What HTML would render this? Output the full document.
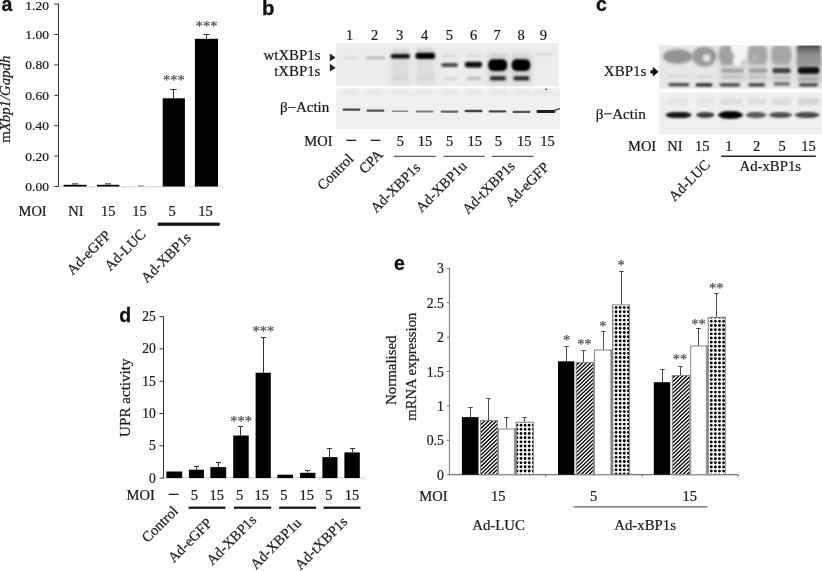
<!DOCTYPE html>
<html lang="en"><head><meta charset="utf-8"><title>Figure</title>
<style>
html,body{margin:0;padding:0;background:#fff}
body{width:822px;height:571px;overflow:hidden}
svg{display:block}
text{font-family:"Liberation Serif",serif;stroke:#1a1a1a;stroke-width:0.22px}
.st{stroke:#4a4a4a;fill:#4a4a4a}
.pl{font-family:"Liberation Sans",sans-serif;font-weight:bold;stroke:#111;stroke-width:0.3px}
</style></head><body>
<svg width="822" height="571" viewBox="0 0 822 571">
<defs>
<filter id="b1" x="-20%" y="-100%" width="140%" height="300%"><feGaussianBlur stdDeviation="0.9"/></filter>
<filter id="b2" x="-20%" y="-100%" width="140%" height="300%"><feGaussianBlur stdDeviation="1.5"/></filter>
<filter id="b3" x="-30%" y="-100%" width="160%" height="300%"><feGaussianBlur stdDeviation="2.5"/></filter>
<filter id="b05" x="-20%" y="-100%" width="140%" height="300%"><feGaussianBlur stdDeviation="0.75"/></filter>
<pattern id="hatch" width="2.74" height="2.74" patternUnits="userSpaceOnUse" patternTransform="rotate(46)">
<rect width="2.74" height="2.74" fill="#fff"/><rect x="0" y="0" width="1.32" height="2.74" fill="#000"/></pattern>
<pattern id="dots1" x="518.95" y="423.1" width="4.1" height="4.16" patternUnits="userSpaceOnUse"><rect width="4.1" height="4.16" fill="#fff"/><circle cx="2.05" cy="2.08" r="1.27" fill="#000"/><path d="M0 2.08H4.1M2.05 0V4.16" stroke="#bbb" stroke-width="0.35"/></pattern>
<pattern id="dots2" x="614.05" y="305.5" width="4.1" height="4.16" patternUnits="userSpaceOnUse"><rect width="4.1" height="4.16" fill="#fff"/><circle cx="2.05" cy="2.08" r="1.27" fill="#000"/><path d="M0 2.08H4.1M2.05 0V4.16" stroke="#bbb" stroke-width="0.35"/></pattern>
<pattern id="dots3" x="709.25" y="439.9" width="4.1" height="4.16" patternUnits="userSpaceOnUse"><rect width="4.1" height="4.16" fill="#fff"/><circle cx="2.05" cy="2.08" r="1.27" fill="#000"/><path d="M0 2.08H4.1M2.05 0V4.16" stroke="#bbb" stroke-width="0.35"/></pattern>
<linearGradient id="g6" x1="0" y1="0" x2="0" y2="1"><stop offset="0" stop-color="#383838"/><stop offset="0.22" stop-color="#6a6a6a"/><stop offset="0.45" stop-color="#8e8e8e"/><stop offset="1" stop-color="#9e9e9e"/></linearGradient>
</defs>
<rect width="822" height="571" fill="#fff"/>

<g id="panelA">
<text class="pl" x="1.4" y="10.9" font-size="19.5" fill="#111">a</text>
<line x1="58.5" y1="3.6" x2="58.5" y2="187.0" stroke="#333" stroke-width="1"/>
<line x1="54.3" y1="186.5" x2="58.5" y2="186.5" stroke="#333" stroke-width="1"/>
<text x="48.9" y="190.9" font-size="13.5" text-anchor="end" fill="#1a1a1a">0.00</text>
<line x1="54.3" y1="156.1" x2="58.5" y2="156.1" stroke="#333" stroke-width="1"/>
<text x="48.9" y="160.5" font-size="13.5" text-anchor="end" fill="#1a1a1a">0.20</text>
<line x1="54.3" y1="125.7" x2="58.5" y2="125.7" stroke="#333" stroke-width="1"/>
<text x="48.9" y="130.1" font-size="13.5" text-anchor="end" fill="#1a1a1a">0.40</text>
<line x1="54.3" y1="95.30000000000001" x2="58.5" y2="95.30000000000001" stroke="#333" stroke-width="1"/>
<text x="48.9" y="99.70000000000002" font-size="13.5" text-anchor="end" fill="#1a1a1a">0.60</text>
<line x1="54.3" y1="64.9" x2="58.5" y2="64.9" stroke="#333" stroke-width="1"/>
<text x="48.9" y="69.30000000000001" font-size="13.5" text-anchor="end" fill="#1a1a1a">0.80</text>
<line x1="54.3" y1="34.5" x2="58.5" y2="34.5" stroke="#333" stroke-width="1"/>
<text x="48.9" y="38.9" font-size="13.5" text-anchor="end" fill="#1a1a1a">1.00</text>
<line x1="54.3" y1="4.100000000000023" x2="58.5" y2="4.100000000000023" stroke="#333" stroke-width="1"/>
<text x="48.9" y="10.100000000000023" font-size="13.5" text-anchor="end" fill="#1a1a1a">1.20</text>
<line x1="58.5" y1="186.7" x2="223" y2="186.7" stroke="#d4d4d4" stroke-width="1"/>
<line x1="91.3" y1="186.5" x2="91.3" y2="189.0" stroke="#d8d8d8" stroke-width="0.8"/>
<line x1="124.1" y1="186.5" x2="124.1" y2="189.0" stroke="#d8d8d8" stroke-width="0.8"/>
<line x1="156.89999999999998" y1="186.5" x2="156.89999999999998" y2="189.0" stroke="#d8d8d8" stroke-width="0.8"/>
<line x1="189.7" y1="186.5" x2="189.7" y2="189.0" stroke="#d8d8d8" stroke-width="0.8"/>
<line x1="222.5" y1="186.5" x2="222.5" y2="189.0" stroke="#d8d8d8" stroke-width="0.8"/>
<text x="10.1" y="142.8" font-size="14.8" transform="rotate(-90 10.1 142.8)" fill="#1a1a1a">m<tspan font-style="italic">Xbp1/Gapdh</tspan></text>
<rect x="63.60" y="184.80" width="23.00" height="1.70" fill="#000"/>
<line x1="72" y1="183.9" x2="78" y2="183.9" stroke="#222" stroke-width="1"/>
<rect x="96.90" y="184.80" width="22.50" height="1.70" fill="#000"/>
<line x1="105" y1="183.9" x2="111" y2="183.9" stroke="#222" stroke-width="1"/>
<line x1="138" y1="185.9" x2="144" y2="185.9" stroke="#666" stroke-width="0.8"/>
<rect x="162.70" y="98.30" width="22.20" height="88.20" fill="#000"/>
<line x1="173.5" y1="98.3" x2="173.5" y2="89.0" stroke="#333" stroke-width="1"/>
<line x1="170.3" y1="89.5" x2="176.7" y2="89.5" stroke="#333" stroke-width="1"/>
<rect x="194.90" y="38.80" width="23.10" height="147.70" fill="#000"/>
<line x1="206.5" y1="38.8" x2="206.5" y2="34.0" stroke="#333" stroke-width="1"/>
<line x1="203.3" y1="34.5" x2="209.7" y2="34.5" stroke="#333" stroke-width="1"/>
<text x="173.8" y="84.5" font-size="14.5" text-anchor="middle" fill="#555" class="st">***</text>
<text x="206.7" y="30.7" font-size="14.5" text-anchor="middle" fill="#555" class="st">***</text>
<text x="18.5" y="216.3" font-size="14.5" fill="#1a1a1a">MOI</text>
<text x="76" y="216.3" font-size="14.5" text-anchor="middle" fill="#1a1a1a">NI</text>
<text x="108.2" y="216.3" font-size="14.5" text-anchor="middle" fill="#1a1a1a">15</text>
<text x="139.5" y="216.3" font-size="14.5" text-anchor="middle" fill="#1a1a1a">15</text>
<text x="172.1" y="216.3" font-size="14.5" text-anchor="middle" fill="#1a1a1a">5</text>
<text x="205.6" y="216.3" font-size="14.5" text-anchor="middle" fill="#1a1a1a">15</text>
<rect x="157.70" y="222.60" width="62.00" height="3.20" fill="#111"/>
<text x="72.5" y="275.5" font-size="14.5" transform="rotate(-45 72.5 275.5)" fill="#1a1a1a">Ad-eGFP</text>
<text x="110.2" y="271.5" font-size="14.5" transform="rotate(-45 110.2 271.5)" fill="#1a1a1a">Ad-LUC</text>
<text x="146.8" y="283.5" font-size="14.5" transform="rotate(-45 146.8 283.5)" fill="#1a1a1a">Ad-XBP1s</text>
</g>
<g id="panelB">
<text class="pl" x="262" y="14.5" font-size="20.3" fill="#111">b</text>
<text x="349.5" y="40" font-size="14.5" text-anchor="middle" fill="#1a1a1a">1</text>
<text x="374.7" y="40" font-size="14.5" text-anchor="middle" fill="#1a1a1a">2</text>
<text x="399.5" y="40" font-size="14.5" text-anchor="middle" fill="#1a1a1a">3</text>
<text x="424.5" y="40" font-size="14.5" text-anchor="middle" fill="#1a1a1a">4</text>
<text x="449.3" y="40" font-size="14.5" text-anchor="middle" fill="#1a1a1a">5</text>
<text x="473.6" y="40" font-size="14.5" text-anchor="middle" fill="#1a1a1a">6</text>
<text x="497.2" y="40" font-size="14.5" text-anchor="middle" fill="#1a1a1a">7</text>
<text x="521" y="40" font-size="14.5" text-anchor="middle" fill="#1a1a1a">8</text>
<text x="543.3" y="40" font-size="14.5" text-anchor="middle" fill="#1a1a1a">9</text>
<text x="320.4" y="60.1" font-size="13.6" text-anchor="end" fill="#1a1a1a" textLength="56.8" lengthAdjust="spacingAndGlyphs">wtXBP1s</text>
<text x="320.4" y="75.7" font-size="13.6" text-anchor="end" fill="#1a1a1a" textLength="46.2" lengthAdjust="spacingAndGlyphs">tXBP1s</text>
<text x="329.3" y="112.2" font-size="13.6" text-anchor="end" fill="#1a1a1a" textLength="49.4" lengthAdjust="spacingAndGlyphs">β−Actin</text>
<path d="M329.8 53.4 L335.6 57.4 L329.8 61.4 Z" fill="#222"/>
<path d="M329.8 63.7 L335.6 67.7 L329.8 71.7 Z" fill="#222"/>
<rect x="336.00" y="43.20" width="222.80" height="42.90" fill="#ececec"/>
<rect x="336.00" y="88.40" width="224.00" height="40.80" fill="#efefef"/>
<g filter="url(#b2)" opacity="0.8">
<rect x="341.50" y="90.50" width="16.00" height="4.50" fill="#e2e2e2"/>
<rect x="366.70" y="90.50" width="16.00" height="4.50" fill="#e2e2e2"/>
<rect x="391.50" y="90.50" width="16.00" height="4.50" fill="#e2e2e2"/>
<rect x="416.50" y="90.50" width="16.00" height="4.50" fill="#e2e2e2"/>
<rect x="441.30" y="90.50" width="16.00" height="4.50" fill="#e2e2e2"/>
<rect x="465.60" y="90.50" width="16.00" height="4.50" fill="#e2e2e2"/>
<rect x="489.20" y="90.50" width="16.00" height="4.50" fill="#e2e2e2"/>
<rect x="513.00" y="90.50" width="16.00" height="4.50" fill="#e2e2e2"/>
<rect x="535.30" y="90.50" width="16.00" height="4.50" fill="#e2e2e2"/>
</g>
<g filter="url(#b2)" opacity="0.7">
<rect x="392.00" y="49.50" width="17.00" height="4.00" fill="#c6c6c6"/>
<rect x="417.00" y="48.50" width="17.00" height="4.00" fill="#c2c2c2"/>
<rect x="393.00" y="76.60" width="15.00" height="2.00" fill="#d0d0d0"/>
<rect x="418.00" y="76.60" width="15.00" height="2.00" fill="#cccccc"/>
</g>
<g filter="url(#b3)" opacity="0.55">
<rect x="391.00" y="58.00" width="19.00" height="26.00" fill="#cfcfcf"/>
<rect x="416.00" y="58.00" width="19.00" height="26.00" fill="#cfcfcf"/>
<rect x="488.00" y="54.00" width="20.00" height="30.00" fill="#bcbcbc"/>
<rect x="511.50" y="54.00" width="20.00" height="30.00" fill="#bcbcbc"/>
</g>
<g filter="url(#b1)">
<rect x="343.00" y="57.00" width="15.50" height="1.40" fill="#cfcfcf"/>
<rect x="366.00" y="56.80" width="19.00" height="2.00" fill="#a8a8a8"/>
<rect x="390.70" y="54.00" width="19.30" height="4.60" fill="#0c0c0c" rx="2"/>
<rect x="415.50" y="52.80" width="19.60" height="6.20" fill="#050505" rx="2.5"/>
<rect x="442.00" y="55.20" width="15.00" height="1.20" fill="#c2c2c2"/>
<rect x="441.30" y="63.00" width="16.60" height="4.00" fill="#4a4a4a" rx="1.5"/>
<rect x="443.00" y="77.80" width="14.00" height="1.50" fill="#c4c4c4"/>
<rect x="466.00" y="55.20" width="15.00" height="1.20" fill="#c2c2c2"/>
<rect x="464.80" y="61.80" width="17.40" height="5.60" fill="#0d0d0d" rx="2.4"/>
<rect x="467.00" y="77.40" width="14.00" height="2.00" fill="#a5a5a5"/>
<rect x="488.20" y="59.20" width="19.00" height="11.80" fill="#000" rx="5"/>
<rect x="511.70" y="59.20" width="18.60" height="11.80" fill="#000" rx="5"/>
<rect x="490.00" y="76.60" width="15.80" height="3.60" fill="#1c1c1c" rx="1.4"/>
<rect x="513.50" y="76.60" width="15.80" height="3.60" fill="#1c1c1c" rx="1.4"/>
<rect x="491.00" y="55.00" width="14.00" height="1.00" fill="#c9c9c9"/>
<rect x="535.70" y="53.60" width="16.50" height="1.40" fill="#c4c4c4"/>
</g>
<g filter="url(#b05)">
<rect x="342.60" y="108.50" width="17.80" height="2.30" fill="#4a4a4a" rx="1.1"/>
<rect x="366.60" y="109.50" width="17.80" height="2.30" fill="#555" rx="1.1"/>
<rect x="391.60" y="110.40" width="16.80" height="1.70" fill="#8a8a8a" rx="1.1"/>
<rect x="415.60" y="110.60" width="17.80" height="1.90" fill="#7a7a7a" rx="1.1"/>
<rect x="440.60" y="110.60" width="17.80" height="2.10" fill="#666" rx="1.1"/>
<rect x="464.60" y="109.80" width="17.80" height="2.50" fill="#444" rx="1.1"/>
<rect x="488.60" y="110.30" width="17.80" height="2.30" fill="#4c4c4c" rx="1.1"/>
<rect x="512.60" y="110.70" width="17.80" height="2.30" fill="#555" rx="1.1"/>
<rect x="536.60" y="110.00" width="18.80" height="2.90" fill="#1c1c1c" rx="1.1"/>
<path d="M553 110.8 L560 108.6" stroke="#333" stroke-width="1.2" fill="none"/>
</g>
<circle cx="546.3" cy="89.4" r="0.8" fill="#333"/>
<text x="304.3" y="146" font-size="14.5" fill="#1a1a1a">MOI</text>
<text x="400.3" y="146.3" font-size="14.5" text-anchor="middle" fill="#1a1a1a">5</text>
<text x="425.1" y="146.3" font-size="14.5" text-anchor="middle" fill="#1a1a1a">15</text>
<text x="449.6" y="146.3" font-size="14.5" text-anchor="middle" fill="#1a1a1a">5</text>
<text x="474.8" y="146.3" font-size="14.5" text-anchor="middle" fill="#1a1a1a">15</text>
<text x="498.4" y="146.3" font-size="14.5" text-anchor="middle" fill="#1a1a1a">5</text>
<text x="524.2" y="146.3" font-size="14.5" text-anchor="middle" fill="#1a1a1a">15</text>
<text x="547.6" y="146.3" font-size="14.5" text-anchor="middle" fill="#1a1a1a">15</text>
<text x="351.35" y="147.4" font-size="20.5" text-anchor="middle" fill="#1a1a1a">−</text>
<text x="375.45" y="147.4" font-size="20.5" text-anchor="middle" fill="#1a1a1a">−</text>
<line x1="393.9" y1="156.3" x2="435.8" y2="156.3" stroke="#333" stroke-width="1"/>
<line x1="443.3" y1="156.3" x2="484.8" y2="156.3" stroke="#333" stroke-width="1"/>
<line x1="492" y1="156.3" x2="533.5" y2="156.3" stroke="#333" stroke-width="1"/>
<text x="323" y="191" font-size="14.5" transform="rotate(-45 323 191)" fill="#1a1a1a">Control</text>
<text x="364.7" y="174.4" font-size="14.5" transform="rotate(-45 364.7 174.4)" fill="#1a1a1a">CPA</text>
<text x="376.2" y="213.5" font-size="14.5" transform="rotate(-45 376.2 213.5)" fill="#1a1a1a">Ad-XBP1s</text>
<text x="421.5" y="213" font-size="14.5" transform="rotate(-45 421.5 213)" fill="#1a1a1a">Ad-XBP1u</text>
<text x="467.9" y="214.8" font-size="14.5" transform="rotate(-45 467.9 214.8)" fill="#1a1a1a">Ad-tXBP1s</text>
<text x="510.7" y="207.4" font-size="14.5" transform="rotate(-45 510.7 207.4)" fill="#1a1a1a">Ad-eGFP</text>
</g>
<g id="panelC">
<text class="pl" x="596" y="11" font-size="19.5" fill="#111">c</text>
<text x="646.4" y="76.3" font-size="15" text-anchor="end" fill="#1a1a1a">XBP1s</text>
<path d="M650.4 70.2 L652.8 70.2 L652.8 66.8 L658.5 71.8 L652.8 76.8 L652.8 73.4 L650.4 73.4 Z" fill="#111"/>
<text x="645.9" y="118.8" font-size="15.2" text-anchor="end" fill="#1a1a1a">β−Actin</text>
<rect x="659.20" y="45.40" width="162.80" height="43.20" fill="#e7e7e7"/>
<rect x="659.20" y="92.40" width="162.80" height="42.20" fill="#efefef"/>
<clipPath id="cu"><rect x="659.2" y="45.4" width="162.8" height="43.2"/></clipPath>
<clipPath id="cl"><rect x="659.2" y="92.4" width="162.8" height="42.2"/></clipPath>
<g clip-path="url(#cu)">
<g filter="url(#b3)" opacity="0.8">
<rect x="720.00" y="62.00" width="25.00" height="20.00" fill="#cfcfcf"/>
<rect x="748.00" y="60.00" width="19.00" height="22.00" fill="#c9c9c9"/>
<rect x="772.00" y="60.00" width="19.00" height="22.00" fill="#c6c6c6"/>
<rect x="797.50" y="58.00" width="23.00" height="26.00" fill="#b4b4b4"/>
</g>
<g filter="url(#b2)">
<ellipse cx="677.6" cy="56.6" rx="14.8" ry="7.4" fill="#949494"/>
<ellipse cx="704.4" cy="56.6" rx="12.2" ry="10" fill="#989898"/>
<ellipse cx="706.7" cy="58" rx="3.4" ry="3.4" fill="#efefef"/>
<rect x="718.8" y="45.5" width="27" height="19.5" rx="6" fill="#a0a0a0"/>
<path d="M731.5 43 L750 43 L750 56 L744.5 60 L738.5 66.5 L732.5 64 L734.5 56 L731 50 Z" fill="#f4f4f4"/>
<rect x="747.5" y="45.5" width="19.8" height="18.6" rx="5" fill="#a6a6a6"/>
<ellipse cx="754.5" cy="57.5" rx="1.6" ry="2.2" fill="#cfcfcf"/>
<rect x="771.2" y="45.5" width="20.2" height="18.8" rx="5" fill="#a6a6a6"/>
<rect x="796.6" y="44" width="24.4" height="24" rx="4" fill="url(#g6)"/>
</g>
<g filter="url(#b1)">
<rect x="721.00" y="68.80" width="23.00" height="3.60" fill="#a2a2a2" rx="1.5"/>
<rect x="749.00" y="68.80" width="18.00" height="3.60" fill="#9a9a9a" rx="1.5"/>
<rect x="772.40" y="68.30" width="18.20" height="4.60" fill="#3a3a3a" rx="2"/>
<rect x="797.80" y="67.20" width="21.60" height="6.60" fill="#080808" rx="3"/>
<rect x="668.00" y="75.20" width="20.00" height="1.30" fill="#cdcdcd"/>
<rect x="697.00" y="76.00" width="15.00" height="1.40" fill="#c2c2c2"/>
<rect x="722.00" y="76.00" width="21.00" height="1.60" fill="#b8b8b8"/>
<rect x="749.00" y="76.40" width="18.00" height="1.60" fill="#b8b8b8"/>
<rect x="773.00" y="77.00" width="18.00" height="1.60" fill="#b8b8b8"/>
<rect x="799.00" y="78.20" width="19.00" height="1.80" fill="#9a9a9a"/>
<rect x="668.40" y="83.00" width="20.70" height="3.20" fill="#484848" rx="1.4"/>
<rect x="695.80" y="83.20" width="16.60" height="3.20" fill="#262626" rx="1.4"/>
<rect x="719.60" y="83.20" width="20.40" height="3.20" fill="#444" rx="1.4"/>
<rect x="748.40" y="83.20" width="16.60" height="3.20" fill="#3c3c3c" rx="1.4"/>
<rect x="773.50" y="82.20" width="16.50" height="3.20" fill="#6a6a6a" rx="1.4"/>
<rect x="799.20" y="83.20" width="18.60" height="3.20" fill="#444" rx="1.4"/>
</g>
</g>
<g clip-path="url(#cl)">
<g filter="url(#b2)" opacity="0.9">
<rect x="668.00" y="98.00" width="20.00" height="7.00" fill="#e4e4e4"/>
<rect x="697.00" y="98.00" width="16.00" height="7.00" fill="#e4e4e4"/>
<rect x="721.00" y="98.00" width="21.00" height="7.00" fill="#dcdcdc"/>
<rect x="748.00" y="98.00" width="18.00" height="7.00" fill="#dcdcdc"/>
<rect x="772.00" y="98.00" width="19.00" height="7.00" fill="#dadada"/>
<rect x="798.00" y="98.00" width="21.00" height="7.00" fill="#d2d2d2"/>
</g>
<g filter="url(#b1)">
<ellipse cx="678.6" cy="115" rx="13.0" ry="3.1" fill="#161616"/>
<rect x="668.60" y="112.20" width="20.00" height="5.60" fill="#161616" rx="3.1"/>
<ellipse cx="705.3" cy="115" rx="9.3" ry="2.7" fill="#383838"/>
<rect x="699.00" y="112.60" width="12.60" height="4.80" fill="#383838" rx="2.7"/>
<ellipse cx="730.5" cy="115" rx="12.5" ry="3.7" fill="#040404"/>
<rect x="721.00" y="111.60" width="19.00" height="6.80" fill="#040404" rx="3.7"/>
<ellipse cx="756.1" cy="115" rx="10.5" ry="2.9" fill="#585858"/>
<rect x="748.60" y="112.40" width="15.00" height="5.20" fill="#585858" rx="2.9"/>
<ellipse cx="780.5" cy="115" rx="11.7" ry="2.8" fill="#505050"/>
<rect x="771.80" y="112.50" width="17.40" height="5.00" fill="#505050" rx="2.8"/>
<ellipse cx="807.1" cy="115" rx="12.5" ry="2.9" fill="#484848"/>
<rect x="797.60" y="112.40" width="19.00" height="5.20" fill="#484848" rx="2.9"/>
</g>
</g>
<text x="628" y="151" font-size="14.5" fill="#1a1a1a">MOI</text>
<text x="675" y="151" font-size="14.5" text-anchor="middle" fill="#1a1a1a">NI</text>
<text x="702.2" y="151" font-size="14.5" text-anchor="middle" fill="#1a1a1a">15</text>
<text x="728.9" y="151" font-size="14.5" text-anchor="middle" fill="#1a1a1a">1</text>
<text x="756.5" y="151" font-size="14.5" text-anchor="middle" fill="#1a1a1a">2</text>
<text x="782" y="151" font-size="14.5" text-anchor="middle" fill="#1a1a1a">5</text>
<text x="808.6" y="151" font-size="14.5" text-anchor="middle" fill="#1a1a1a">15</text>
<line x1="721.2" y1="156.3" x2="815.8" y2="156.3" stroke="#222" stroke-width="1.4"/>
<text x="770.3" y="171" font-size="14.8" text-anchor="middle" fill="#1a1a1a">Ad-xBP1s</text>
<text x="674.5" y="202" font-size="14.5" transform="rotate(-45 674.5 202)" fill="#1a1a1a">Ad-LUC</text>
</g>
<g id="panelD">
<text class="pl" x="119.3" y="322.3" font-size="19.5" fill="#111">d</text>
<line x1="163.5" y1="316.2" x2="163.5" y2="478.6" stroke="#333" stroke-width="1"/>
<line x1="159.5" y1="478.1" x2="163.5" y2="478.1" stroke="#333" stroke-width="1"/>
<text x="155.9" y="482.6" font-size="13.6" text-anchor="end" fill="#1a1a1a">0</text>
<line x1="159.5" y1="445.8" x2="163.5" y2="445.8" stroke="#333" stroke-width="1"/>
<text x="155.9" y="450.3" font-size="13.6" text-anchor="end" fill="#1a1a1a">5</text>
<line x1="159.5" y1="413.5" x2="163.5" y2="413.5" stroke="#333" stroke-width="1"/>
<text x="155.9" y="418.0" font-size="13.6" text-anchor="end" fill="#1a1a1a">10</text>
<line x1="159.5" y1="381.20000000000005" x2="163.5" y2="381.20000000000005" stroke="#333" stroke-width="1"/>
<text x="155.9" y="385.70000000000005" font-size="13.6" text-anchor="end" fill="#1a1a1a">15</text>
<line x1="159.5" y1="348.90000000000003" x2="163.5" y2="348.90000000000003" stroke="#333" stroke-width="1"/>
<text x="155.9" y="353.40000000000003" font-size="13.6" text-anchor="end" fill="#1a1a1a">20</text>
<line x1="159.5" y1="316.6" x2="163.5" y2="316.6" stroke="#333" stroke-width="1"/>
<text x="155.9" y="321.1" font-size="13.6" text-anchor="end" fill="#1a1a1a">25</text>
<line x1="163.5" y1="477.70000000000005" x2="364" y2="477.70000000000005" stroke="#d4d4d4" stroke-width="1"/>
<line x1="185.75" y1="477.70000000000005" x2="185.75" y2="479.90000000000003" stroke="#d8d8d8" stroke-width="0.8"/>
<line x1="208.0" y1="477.70000000000005" x2="208.0" y2="479.90000000000003" stroke="#d8d8d8" stroke-width="0.8"/>
<line x1="230.25" y1="477.70000000000005" x2="230.25" y2="479.90000000000003" stroke="#d8d8d8" stroke-width="0.8"/>
<line x1="252.5" y1="477.70000000000005" x2="252.5" y2="479.90000000000003" stroke="#d8d8d8" stroke-width="0.8"/>
<line x1="274.75" y1="477.70000000000005" x2="274.75" y2="479.90000000000003" stroke="#d8d8d8" stroke-width="0.8"/>
<line x1="297.0" y1="477.70000000000005" x2="297.0" y2="479.90000000000003" stroke="#d8d8d8" stroke-width="0.8"/>
<line x1="319.25" y1="477.70000000000005" x2="319.25" y2="479.90000000000003" stroke="#d8d8d8" stroke-width="0.8"/>
<line x1="341.5" y1="477.70000000000005" x2="341.5" y2="479.90000000000003" stroke="#d8d8d8" stroke-width="0.8"/>
<line x1="363.75" y1="477.70000000000005" x2="363.75" y2="479.90000000000003" stroke="#d8d8d8" stroke-width="0.8"/>
<text x="130.0" y="436.9" font-size="15.1" transform="rotate(-90 130.0 436.9)" fill="#1a1a1a">UPR activity</text>
<rect x="166.40" y="471.50" width="15.80" height="6.60" fill="#000"/>
<rect x="188.90" y="469.70" width="15.00" height="8.40" fill="#000"/>
<line x1="196.5" y1="469.7" x2="196.5" y2="466.0" stroke="#333" stroke-width="1"/>
<line x1="194.0" y1="466.5" x2="199.0" y2="466.5" stroke="#333" stroke-width="1"/>
<rect x="210.40" y="467.10" width="15.80" height="11.00" fill="#000"/>
<line x1="218.5" y1="467.1" x2="218.5" y2="462.0" stroke="#333" stroke-width="1"/>
<line x1="216.0" y1="462.5" x2="221.0" y2="462.5" stroke="#333" stroke-width="1"/>
<rect x="233.20" y="435.50" width="15.50" height="42.60" fill="#000"/>
<line x1="240.5" y1="435.5" x2="240.5" y2="426.0" stroke="#333" stroke-width="1"/>
<line x1="238.0" y1="426.5" x2="243.0" y2="426.5" stroke="#333" stroke-width="1"/>
<rect x="255.60" y="372.70" width="15.20" height="105.40" fill="#000"/>
<line x1="263.5" y1="372.7" x2="263.5" y2="337.0" stroke="#333" stroke-width="1"/>
<line x1="261.0" y1="337.5" x2="266.0" y2="337.5" stroke="#333" stroke-width="1"/>
<rect x="277.30" y="474.70" width="15.70" height="3.40" fill="#000"/>
<rect x="300.00" y="472.80" width="15.40" height="5.30" fill="#000"/>
<line x1="307.5" y1="472.8" x2="307.5" y2="470.0" stroke="#333" stroke-width="1"/>
<line x1="305.0" y1="470.5" x2="310.0" y2="470.5" stroke="#333" stroke-width="1"/>
<rect x="322.40" y="457.10" width="15.10" height="21.00" fill="#000"/>
<line x1="329.5" y1="457.1" x2="329.5" y2="448.0" stroke="#333" stroke-width="1"/>
<line x1="327.0" y1="448.5" x2="332.0" y2="448.5" stroke="#333" stroke-width="1"/>
<rect x="344.40" y="452.40" width="15.40" height="25.70" fill="#000"/>
<line x1="352.5" y1="452.4" x2="352.5" y2="448.0" stroke="#333" stroke-width="1"/>
<line x1="350.0" y1="448.5" x2="355.0" y2="448.5" stroke="#333" stroke-width="1"/>
<text x="241" y="426.1" font-size="14.5" text-anchor="middle" fill="#555" class="st">***</text>
<text x="263.3" y="335.5" font-size="14.5" text-anchor="middle" fill="#555" class="st">***</text>
<text x="126.6" y="500.3" font-size="14.5" fill="#1a1a1a">MOI</text>
<text x="173.6" y="500.9" font-size="20.5" text-anchor="middle" fill="#1a1a1a">−</text>
<text x="194.3" y="500.3" font-size="14.5" text-anchor="middle" fill="#1a1a1a">5</text>
<text x="216.8" y="500.3" font-size="14.5" text-anchor="middle" fill="#1a1a1a">15</text>
<text x="239.6" y="500.3" font-size="14.5" text-anchor="middle" fill="#1a1a1a">5</text>
<text x="261.8" y="500.3" font-size="14.5" text-anchor="middle" fill="#1a1a1a">15</text>
<text x="283.9" y="500.3" font-size="14.5" text-anchor="middle" fill="#1a1a1a">5</text>
<text x="306.7" y="500.3" font-size="14.5" text-anchor="middle" fill="#1a1a1a">15</text>
<text x="328.9" y="500.3" font-size="14.5" text-anchor="middle" fill="#1a1a1a">5</text>
<text x="352" y="500.3" font-size="14.5" text-anchor="middle" fill="#1a1a1a">15</text>
<rect x="188.60" y="506.60" width="36.90" height="2.20" fill="#111"/>
<rect x="233.90" y="506.60" width="37.30" height="2.20" fill="#111"/>
<rect x="279.20" y="506.60" width="37.00" height="2.20" fill="#111"/>
<rect x="323.60" y="506.60" width="36.90" height="2.20" fill="#111"/>
<text x="147.6" y="543.3" font-size="14.5" transform="rotate(-45 147.6 543.3)" fill="#1a1a1a">Control</text>
<text x="173.7" y="563.3" font-size="14.5" transform="rotate(-45 173.7 563.3)" fill="#1a1a1a">Ad-eGFP</text>
<text x="212.2" y="565.8" font-size="14.5" transform="rotate(-45 212.2 565.8)" fill="#1a1a1a">Ad-XBP1s</text>
<text x="256" y="570" font-size="14.5" transform="rotate(-45 256 570)" fill="#1a1a1a">Ad-XBP1u</text>
<text x="300.5" y="570.4" font-size="14.5" transform="rotate(-45 300.5 570.4)" fill="#1a1a1a">Ad-tXBP1s</text>
</g>
<g id="panelE">
<text class="pl" x="394" y="270" font-size="19.5" fill="#111">e</text>
<line x1="449.4" y1="267.8" x2="449.4" y2="475.2" stroke="#777" stroke-width="1"/>
<line x1="446.79999999999995" y1="474.7" x2="449.4" y2="474.7" stroke="#777" stroke-width="1"/>
<text x="443.9" y="479.8" font-size="13.8" text-anchor="end" fill="#1a1a1a">0</text>
<line x1="446.79999999999995" y1="440.3" x2="449.4" y2="440.3" stroke="#777" stroke-width="1"/>
<text x="443.9" y="445.40000000000003" font-size="13.8" text-anchor="end" fill="#1a1a1a">0.5</text>
<line x1="446.79999999999995" y1="405.9" x2="449.4" y2="405.9" stroke="#777" stroke-width="1"/>
<text x="443.9" y="411.0" font-size="13.8" text-anchor="end" fill="#1a1a1a">1</text>
<line x1="446.79999999999995" y1="371.5" x2="449.4" y2="371.5" stroke="#777" stroke-width="1"/>
<text x="443.9" y="376.6" font-size="13.8" text-anchor="end" fill="#1a1a1a">1.5</text>
<line x1="446.79999999999995" y1="337.1" x2="449.4" y2="337.1" stroke="#777" stroke-width="1"/>
<text x="443.9" y="342.20000000000005" font-size="13.8" text-anchor="end" fill="#1a1a1a">2</text>
<line x1="446.79999999999995" y1="302.7" x2="449.4" y2="302.7" stroke="#777" stroke-width="1"/>
<text x="443.9" y="307.8" font-size="13.8" text-anchor="end" fill="#1a1a1a">2.5</text>
<line x1="446.79999999999995" y1="268.3" x2="449.4" y2="268.3" stroke="#777" stroke-width="1"/>
<text x="443.9" y="273.40000000000003" font-size="13.8" text-anchor="end" fill="#1a1a1a">3</text>
<line x1="449.4" y1="474.7" x2="738.3" y2="474.7" stroke="#777" stroke-width="1.2"/>
<line x1="545.8" y1="474.7" x2="545.8" y2="477.09999999999997" stroke="#777" stroke-width="1"/>
<line x1="642" y1="474.7" x2="642" y2="477.09999999999997" stroke="#777" stroke-width="1"/>
<line x1="738.3" y1="474.7" x2="738.3" y2="477.09999999999997" stroke="#777" stroke-width="1"/>
<text x="396" y="370.2" font-size="14.9" text-anchor="middle" transform="rotate(-90 396 370.2)" fill="#1a1a1a">Normalised</text>
<text x="416.4" y="366.7" font-size="14.7" text-anchor="middle" transform="rotate(-90 416.4 366.7)" fill="#1a1a1a">mRNA expression</text>
<rect x="461.90" y="417.10" width="16.60" height="57.60" fill="#000"/>
<line x1="470.5" y1="417.1" x2="470.5" y2="407.0" stroke="#4a4a4a" stroke-width="1"/>
<line x1="468.25" y1="407.5" x2="472.75" y2="407.5" stroke="#4a4a4a" stroke-width="1"/>
<clipPath id="cb1"><rect x="480.60" y="420.60" width="16.80" height="54.10"/></clipPath>
<rect x="480.60" y="420.60" width="16.80" height="54.10" fill="#fff"/>
<path clip-path="url(#cb1)" d="M479.60 418.27L498.40 400.11M479.60 422.07L498.40 403.91M479.60 425.87L498.40 407.71M479.60 429.67L498.40 411.51M479.60 433.47L498.40 415.31M479.60 437.27L498.40 419.11M479.60 441.07L498.40 422.91M479.60 444.87L498.40 426.71M479.60 448.67L498.40 430.51M479.60 452.47L498.40 434.31M479.60 456.27L498.40 438.11M479.60 460.07L498.40 441.91M479.60 463.87L498.40 445.71M479.60 467.67L498.40 449.51M479.60 471.47L498.40 453.31M479.60 475.27L498.40 457.11M479.60 479.07L498.40 460.91M479.60 482.87L498.40 464.71M479.60 486.67L498.40 468.51M479.60 490.47L498.40 472.31M479.60 494.27L498.40 476.11" stroke="#000" stroke-width="1.32" fill="none"/>
<rect x="480.60" y="420.60" width="16.80" height="54.10" fill="none" stroke="#858585" stroke-width="1"/>
<line x1="488.5" y1="420.1" x2="488.5" y2="398.0" stroke="#4a4a4a" stroke-width="1"/>
<line x1="486.25" y1="398.5" x2="490.75" y2="398.5" stroke="#4a4a4a" stroke-width="1"/>
<clipPath id="cb2"><rect x="498.40" y="429.00" width="16.80" height="45.70"/></clipPath>
<rect x="498.40" y="429.00" width="16.80" height="45.70" fill="#fff"/>
<rect x="513.80" y="428.50" width="2.70" height="46.20" fill="#a2a2a2"/>
<rect x="498.40" y="429.00" width="16.80" height="45.70" fill="none" stroke="#858585" stroke-width="1"/>
<line x1="506.5" y1="428.5" x2="506.5" y2="417.0" stroke="#4a4a4a" stroke-width="1"/>
<line x1="504.25" y1="417.5" x2="508.75" y2="417.5" stroke="#4a4a4a" stroke-width="1"/>
<clipPath id="cb3"><rect x="516.20" y="422.20" width="17.20" height="52.50"/></clipPath>
<rect x="516.20" y="422.20" width="17.20" height="52.50" fill="#fff"/>
<path clip-path="url(#cb3)" d="M511.35 421.04a1.45 1.45 0 1 0 2.9 0a1.45 1.45 0 1 0 -2.9 0zM511.35 425.20a1.45 1.45 0 1 0 2.9 0a1.45 1.45 0 1 0 -2.9 0zM511.35 429.36a1.45 1.45 0 1 0 2.9 0a1.45 1.45 0 1 0 -2.9 0zM511.35 433.52a1.45 1.45 0 1 0 2.9 0a1.45 1.45 0 1 0 -2.9 0zM511.35 437.68a1.45 1.45 0 1 0 2.9 0a1.45 1.45 0 1 0 -2.9 0zM511.35 441.84a1.45 1.45 0 1 0 2.9 0a1.45 1.45 0 1 0 -2.9 0zM511.35 446.00a1.45 1.45 0 1 0 2.9 0a1.45 1.45 0 1 0 -2.9 0zM511.35 450.16a1.45 1.45 0 1 0 2.9 0a1.45 1.45 0 1 0 -2.9 0zM511.35 454.32a1.45 1.45 0 1 0 2.9 0a1.45 1.45 0 1 0 -2.9 0zM511.35 458.48a1.45 1.45 0 1 0 2.9 0a1.45 1.45 0 1 0 -2.9 0zM511.35 462.64a1.45 1.45 0 1 0 2.9 0a1.45 1.45 0 1 0 -2.9 0zM511.35 466.80a1.45 1.45 0 1 0 2.9 0a1.45 1.45 0 1 0 -2.9 0zM511.35 470.96a1.45 1.45 0 1 0 2.9 0a1.45 1.45 0 1 0 -2.9 0zM511.35 475.12a1.45 1.45 0 1 0 2.9 0a1.45 1.45 0 1 0 -2.9 0zM515.45 421.04a1.45 1.45 0 1 0 2.9 0a1.45 1.45 0 1 0 -2.9 0zM515.45 425.20a1.45 1.45 0 1 0 2.9 0a1.45 1.45 0 1 0 -2.9 0zM515.45 429.36a1.45 1.45 0 1 0 2.9 0a1.45 1.45 0 1 0 -2.9 0zM515.45 433.52a1.45 1.45 0 1 0 2.9 0a1.45 1.45 0 1 0 -2.9 0zM515.45 437.68a1.45 1.45 0 1 0 2.9 0a1.45 1.45 0 1 0 -2.9 0zM515.45 441.84a1.45 1.45 0 1 0 2.9 0a1.45 1.45 0 1 0 -2.9 0zM515.45 446.00a1.45 1.45 0 1 0 2.9 0a1.45 1.45 0 1 0 -2.9 0zM515.45 450.16a1.45 1.45 0 1 0 2.9 0a1.45 1.45 0 1 0 -2.9 0zM515.45 454.32a1.45 1.45 0 1 0 2.9 0a1.45 1.45 0 1 0 -2.9 0zM515.45 458.48a1.45 1.45 0 1 0 2.9 0a1.45 1.45 0 1 0 -2.9 0zM515.45 462.64a1.45 1.45 0 1 0 2.9 0a1.45 1.45 0 1 0 -2.9 0zM515.45 466.80a1.45 1.45 0 1 0 2.9 0a1.45 1.45 0 1 0 -2.9 0zM515.45 470.96a1.45 1.45 0 1 0 2.9 0a1.45 1.45 0 1 0 -2.9 0zM515.45 475.12a1.45 1.45 0 1 0 2.9 0a1.45 1.45 0 1 0 -2.9 0zM519.55 421.04a1.45 1.45 0 1 0 2.9 0a1.45 1.45 0 1 0 -2.9 0zM519.55 425.20a1.45 1.45 0 1 0 2.9 0a1.45 1.45 0 1 0 -2.9 0zM519.55 429.36a1.45 1.45 0 1 0 2.9 0a1.45 1.45 0 1 0 -2.9 0zM519.55 433.52a1.45 1.45 0 1 0 2.9 0a1.45 1.45 0 1 0 -2.9 0zM519.55 437.68a1.45 1.45 0 1 0 2.9 0a1.45 1.45 0 1 0 -2.9 0zM519.55 441.84a1.45 1.45 0 1 0 2.9 0a1.45 1.45 0 1 0 -2.9 0zM519.55 446.00a1.45 1.45 0 1 0 2.9 0a1.45 1.45 0 1 0 -2.9 0zM519.55 450.16a1.45 1.45 0 1 0 2.9 0a1.45 1.45 0 1 0 -2.9 0zM519.55 454.32a1.45 1.45 0 1 0 2.9 0a1.45 1.45 0 1 0 -2.9 0zM519.55 458.48a1.45 1.45 0 1 0 2.9 0a1.45 1.45 0 1 0 -2.9 0zM519.55 462.64a1.45 1.45 0 1 0 2.9 0a1.45 1.45 0 1 0 -2.9 0zM519.55 466.80a1.45 1.45 0 1 0 2.9 0a1.45 1.45 0 1 0 -2.9 0zM519.55 470.96a1.45 1.45 0 1 0 2.9 0a1.45 1.45 0 1 0 -2.9 0zM519.55 475.12a1.45 1.45 0 1 0 2.9 0a1.45 1.45 0 1 0 -2.9 0zM523.65 421.04a1.45 1.45 0 1 0 2.9 0a1.45 1.45 0 1 0 -2.9 0zM523.65 425.20a1.45 1.45 0 1 0 2.9 0a1.45 1.45 0 1 0 -2.9 0zM523.65 429.36a1.45 1.45 0 1 0 2.9 0a1.45 1.45 0 1 0 -2.9 0zM523.65 433.52a1.45 1.45 0 1 0 2.9 0a1.45 1.45 0 1 0 -2.9 0zM523.65 437.68a1.45 1.45 0 1 0 2.9 0a1.45 1.45 0 1 0 -2.9 0zM523.65 441.84a1.45 1.45 0 1 0 2.9 0a1.45 1.45 0 1 0 -2.9 0zM523.65 446.00a1.45 1.45 0 1 0 2.9 0a1.45 1.45 0 1 0 -2.9 0zM523.65 450.16a1.45 1.45 0 1 0 2.9 0a1.45 1.45 0 1 0 -2.9 0zM523.65 454.32a1.45 1.45 0 1 0 2.9 0a1.45 1.45 0 1 0 -2.9 0zM523.65 458.48a1.45 1.45 0 1 0 2.9 0a1.45 1.45 0 1 0 -2.9 0zM523.65 462.64a1.45 1.45 0 1 0 2.9 0a1.45 1.45 0 1 0 -2.9 0zM523.65 466.80a1.45 1.45 0 1 0 2.9 0a1.45 1.45 0 1 0 -2.9 0zM523.65 470.96a1.45 1.45 0 1 0 2.9 0a1.45 1.45 0 1 0 -2.9 0zM523.65 475.12a1.45 1.45 0 1 0 2.9 0a1.45 1.45 0 1 0 -2.9 0zM527.75 421.04a1.45 1.45 0 1 0 2.9 0a1.45 1.45 0 1 0 -2.9 0zM527.75 425.20a1.45 1.45 0 1 0 2.9 0a1.45 1.45 0 1 0 -2.9 0zM527.75 429.36a1.45 1.45 0 1 0 2.9 0a1.45 1.45 0 1 0 -2.9 0zM527.75 433.52a1.45 1.45 0 1 0 2.9 0a1.45 1.45 0 1 0 -2.9 0zM527.75 437.68a1.45 1.45 0 1 0 2.9 0a1.45 1.45 0 1 0 -2.9 0zM527.75 441.84a1.45 1.45 0 1 0 2.9 0a1.45 1.45 0 1 0 -2.9 0zM527.75 446.00a1.45 1.45 0 1 0 2.9 0a1.45 1.45 0 1 0 -2.9 0zM527.75 450.16a1.45 1.45 0 1 0 2.9 0a1.45 1.45 0 1 0 -2.9 0zM527.75 454.32a1.45 1.45 0 1 0 2.9 0a1.45 1.45 0 1 0 -2.9 0zM527.75 458.48a1.45 1.45 0 1 0 2.9 0a1.45 1.45 0 1 0 -2.9 0zM527.75 462.64a1.45 1.45 0 1 0 2.9 0a1.45 1.45 0 1 0 -2.9 0zM527.75 466.80a1.45 1.45 0 1 0 2.9 0a1.45 1.45 0 1 0 -2.9 0zM527.75 470.96a1.45 1.45 0 1 0 2.9 0a1.45 1.45 0 1 0 -2.9 0zM527.75 475.12a1.45 1.45 0 1 0 2.9 0a1.45 1.45 0 1 0 -2.9 0zM531.85 421.04a1.45 1.45 0 1 0 2.9 0a1.45 1.45 0 1 0 -2.9 0zM531.85 425.20a1.45 1.45 0 1 0 2.9 0a1.45 1.45 0 1 0 -2.9 0zM531.85 429.36a1.45 1.45 0 1 0 2.9 0a1.45 1.45 0 1 0 -2.9 0zM531.85 433.52a1.45 1.45 0 1 0 2.9 0a1.45 1.45 0 1 0 -2.9 0zM531.85 437.68a1.45 1.45 0 1 0 2.9 0a1.45 1.45 0 1 0 -2.9 0zM531.85 441.84a1.45 1.45 0 1 0 2.9 0a1.45 1.45 0 1 0 -2.9 0zM531.85 446.00a1.45 1.45 0 1 0 2.9 0a1.45 1.45 0 1 0 -2.9 0zM531.85 450.16a1.45 1.45 0 1 0 2.9 0a1.45 1.45 0 1 0 -2.9 0zM531.85 454.32a1.45 1.45 0 1 0 2.9 0a1.45 1.45 0 1 0 -2.9 0zM531.85 458.48a1.45 1.45 0 1 0 2.9 0a1.45 1.45 0 1 0 -2.9 0zM531.85 462.64a1.45 1.45 0 1 0 2.9 0a1.45 1.45 0 1 0 -2.9 0zM531.85 466.80a1.45 1.45 0 1 0 2.9 0a1.45 1.45 0 1 0 -2.9 0zM531.85 470.96a1.45 1.45 0 1 0 2.9 0a1.45 1.45 0 1 0 -2.9 0zM531.85 475.12a1.45 1.45 0 1 0 2.9 0a1.45 1.45 0 1 0 -2.9 0z" fill="#000"/>
<rect x="516.20" y="422.20" width="17.20" height="52.50" fill="none" stroke="#858585" stroke-width="1"/>
<line x1="524.5" y1="421.7" x2="524.5" y2="417.0" stroke="#4a4a4a" stroke-width="1"/>
<line x1="522.25" y1="417.5" x2="526.75" y2="417.5" stroke="#4a4a4a" stroke-width="1"/>
<rect x="558.00" y="361.30" width="16.30" height="113.40" fill="#000"/>
<line x1="566.5" y1="361.3" x2="566.5" y2="346.0" stroke="#4a4a4a" stroke-width="1"/>
<line x1="564.25" y1="346.5" x2="568.75" y2="346.5" stroke="#4a4a4a" stroke-width="1"/>
<clipPath id="cb4"><rect x="576.20" y="362.60" width="17.20" height="112.10"/></clipPath>
<rect x="576.20" y="362.60" width="17.20" height="112.10" fill="#fff"/>
<path clip-path="url(#cb4)" d="M575.20 362.47L594.40 343.92M575.20 366.27L594.40 347.72M575.20 370.07L594.40 351.52M575.20 373.87L594.40 355.32M575.20 377.67L594.40 359.12M575.20 381.47L594.40 362.92M575.20 385.27L594.40 366.72M575.20 389.07L594.40 370.52M575.20 392.87L594.40 374.32M575.20 396.67L594.40 378.12M575.20 400.47L594.40 381.92M575.20 404.27L594.40 385.72M575.20 408.07L594.40 389.52M575.20 411.87L594.40 393.32M575.20 415.67L594.40 397.12M575.20 419.47L594.40 400.92M575.20 423.27L594.40 404.72M575.20 427.07L594.40 408.52M575.20 430.87L594.40 412.32M575.20 434.67L594.40 416.12M575.20 438.47L594.40 419.92M575.20 442.27L594.40 423.72M575.20 446.07L594.40 427.52M575.20 449.87L594.40 431.32M575.20 453.67L594.40 435.12M575.20 457.47L594.40 438.92M575.20 461.27L594.40 442.72M575.20 465.07L594.40 446.52M575.20 468.87L594.40 450.32M575.20 472.67L594.40 454.12M575.20 476.47L594.40 457.92M575.20 480.27L594.40 461.72M575.20 484.07L594.40 465.52M575.20 487.87L594.40 469.32M575.20 491.67L594.40 473.12M575.20 495.47L594.40 476.92" stroke="#000" stroke-width="1.32" fill="none"/>
<rect x="576.20" y="362.60" width="17.20" height="112.10" fill="none" stroke="#858585" stroke-width="1"/>
<line x1="583.5" y1="362.1" x2="583.5" y2="350.0" stroke="#4a4a4a" stroke-width="1"/>
<line x1="581.25" y1="350.5" x2="585.75" y2="350.5" stroke="#4a4a4a" stroke-width="1"/>
<clipPath id="cb5"><rect x="594.40" y="350.00" width="17.20" height="124.70"/></clipPath>
<rect x="594.40" y="350.00" width="17.20" height="124.70" fill="#fff"/>
<rect x="610.20" y="349.50" width="2.70" height="125.20" fill="#a2a2a2"/>
<rect x="594.40" y="350.00" width="17.20" height="124.70" fill="none" stroke="#858585" stroke-width="1"/>
<line x1="603.5" y1="349.5" x2="603.5" y2="331.0" stroke="#4a4a4a" stroke-width="1"/>
<line x1="601.25" y1="331.5" x2="605.75" y2="331.5" stroke="#4a4a4a" stroke-width="1"/>
<clipPath id="cb6"><rect x="612.60" y="304.90" width="17.00" height="169.80"/></clipPath>
<rect x="612.60" y="304.90" width="17.00" height="169.80" fill="#fff"/>
<path clip-path="url(#cb6)" d="M610.55 303.44a1.45 1.45 0 1 0 2.9 0a1.45 1.45 0 1 0 -2.9 0zM610.55 307.60a1.45 1.45 0 1 0 2.9 0a1.45 1.45 0 1 0 -2.9 0zM610.55 311.76a1.45 1.45 0 1 0 2.9 0a1.45 1.45 0 1 0 -2.9 0zM610.55 315.92a1.45 1.45 0 1 0 2.9 0a1.45 1.45 0 1 0 -2.9 0zM610.55 320.08a1.45 1.45 0 1 0 2.9 0a1.45 1.45 0 1 0 -2.9 0zM610.55 324.24a1.45 1.45 0 1 0 2.9 0a1.45 1.45 0 1 0 -2.9 0zM610.55 328.40a1.45 1.45 0 1 0 2.9 0a1.45 1.45 0 1 0 -2.9 0zM610.55 332.56a1.45 1.45 0 1 0 2.9 0a1.45 1.45 0 1 0 -2.9 0zM610.55 336.72a1.45 1.45 0 1 0 2.9 0a1.45 1.45 0 1 0 -2.9 0zM610.55 340.88a1.45 1.45 0 1 0 2.9 0a1.45 1.45 0 1 0 -2.9 0zM610.55 345.04a1.45 1.45 0 1 0 2.9 0a1.45 1.45 0 1 0 -2.9 0zM610.55 349.20a1.45 1.45 0 1 0 2.9 0a1.45 1.45 0 1 0 -2.9 0zM610.55 353.36a1.45 1.45 0 1 0 2.9 0a1.45 1.45 0 1 0 -2.9 0zM610.55 357.52a1.45 1.45 0 1 0 2.9 0a1.45 1.45 0 1 0 -2.9 0zM610.55 361.68a1.45 1.45 0 1 0 2.9 0a1.45 1.45 0 1 0 -2.9 0zM610.55 365.84a1.45 1.45 0 1 0 2.9 0a1.45 1.45 0 1 0 -2.9 0zM610.55 370.00a1.45 1.45 0 1 0 2.9 0a1.45 1.45 0 1 0 -2.9 0zM610.55 374.16a1.45 1.45 0 1 0 2.9 0a1.45 1.45 0 1 0 -2.9 0zM610.55 378.32a1.45 1.45 0 1 0 2.9 0a1.45 1.45 0 1 0 -2.9 0zM610.55 382.48a1.45 1.45 0 1 0 2.9 0a1.45 1.45 0 1 0 -2.9 0zM610.55 386.64a1.45 1.45 0 1 0 2.9 0a1.45 1.45 0 1 0 -2.9 0zM610.55 390.80a1.45 1.45 0 1 0 2.9 0a1.45 1.45 0 1 0 -2.9 0zM610.55 394.96a1.45 1.45 0 1 0 2.9 0a1.45 1.45 0 1 0 -2.9 0zM610.55 399.12a1.45 1.45 0 1 0 2.9 0a1.45 1.45 0 1 0 -2.9 0zM610.55 403.28a1.45 1.45 0 1 0 2.9 0a1.45 1.45 0 1 0 -2.9 0zM610.55 407.44a1.45 1.45 0 1 0 2.9 0a1.45 1.45 0 1 0 -2.9 0zM610.55 411.60a1.45 1.45 0 1 0 2.9 0a1.45 1.45 0 1 0 -2.9 0zM610.55 415.76a1.45 1.45 0 1 0 2.9 0a1.45 1.45 0 1 0 -2.9 0zM610.55 419.92a1.45 1.45 0 1 0 2.9 0a1.45 1.45 0 1 0 -2.9 0zM610.55 424.08a1.45 1.45 0 1 0 2.9 0a1.45 1.45 0 1 0 -2.9 0zM610.55 428.24a1.45 1.45 0 1 0 2.9 0a1.45 1.45 0 1 0 -2.9 0zM610.55 432.40a1.45 1.45 0 1 0 2.9 0a1.45 1.45 0 1 0 -2.9 0zM610.55 436.56a1.45 1.45 0 1 0 2.9 0a1.45 1.45 0 1 0 -2.9 0zM610.55 440.72a1.45 1.45 0 1 0 2.9 0a1.45 1.45 0 1 0 -2.9 0zM610.55 444.88a1.45 1.45 0 1 0 2.9 0a1.45 1.45 0 1 0 -2.9 0zM610.55 449.04a1.45 1.45 0 1 0 2.9 0a1.45 1.45 0 1 0 -2.9 0zM610.55 453.20a1.45 1.45 0 1 0 2.9 0a1.45 1.45 0 1 0 -2.9 0zM610.55 457.36a1.45 1.45 0 1 0 2.9 0a1.45 1.45 0 1 0 -2.9 0zM610.55 461.52a1.45 1.45 0 1 0 2.9 0a1.45 1.45 0 1 0 -2.9 0zM610.55 465.68a1.45 1.45 0 1 0 2.9 0a1.45 1.45 0 1 0 -2.9 0zM610.55 469.84a1.45 1.45 0 1 0 2.9 0a1.45 1.45 0 1 0 -2.9 0zM610.55 474.00a1.45 1.45 0 1 0 2.9 0a1.45 1.45 0 1 0 -2.9 0zM614.65 303.44a1.45 1.45 0 1 0 2.9 0a1.45 1.45 0 1 0 -2.9 0zM614.65 307.60a1.45 1.45 0 1 0 2.9 0a1.45 1.45 0 1 0 -2.9 0zM614.65 311.76a1.45 1.45 0 1 0 2.9 0a1.45 1.45 0 1 0 -2.9 0zM614.65 315.92a1.45 1.45 0 1 0 2.9 0a1.45 1.45 0 1 0 -2.9 0zM614.65 320.08a1.45 1.45 0 1 0 2.9 0a1.45 1.45 0 1 0 -2.9 0zM614.65 324.24a1.45 1.45 0 1 0 2.9 0a1.45 1.45 0 1 0 -2.9 0zM614.65 328.40a1.45 1.45 0 1 0 2.9 0a1.45 1.45 0 1 0 -2.9 0zM614.65 332.56a1.45 1.45 0 1 0 2.9 0a1.45 1.45 0 1 0 -2.9 0zM614.65 336.72a1.45 1.45 0 1 0 2.9 0a1.45 1.45 0 1 0 -2.9 0zM614.65 340.88a1.45 1.45 0 1 0 2.9 0a1.45 1.45 0 1 0 -2.9 0zM614.65 345.04a1.45 1.45 0 1 0 2.9 0a1.45 1.45 0 1 0 -2.9 0zM614.65 349.20a1.45 1.45 0 1 0 2.9 0a1.45 1.45 0 1 0 -2.9 0zM614.65 353.36a1.45 1.45 0 1 0 2.9 0a1.45 1.45 0 1 0 -2.9 0zM614.65 357.52a1.45 1.45 0 1 0 2.9 0a1.45 1.45 0 1 0 -2.9 0zM614.65 361.68a1.45 1.45 0 1 0 2.9 0a1.45 1.45 0 1 0 -2.9 0zM614.65 365.84a1.45 1.45 0 1 0 2.9 0a1.45 1.45 0 1 0 -2.9 0zM614.65 370.00a1.45 1.45 0 1 0 2.9 0a1.45 1.45 0 1 0 -2.9 0zM614.65 374.16a1.45 1.45 0 1 0 2.9 0a1.45 1.45 0 1 0 -2.9 0zM614.65 378.32a1.45 1.45 0 1 0 2.9 0a1.45 1.45 0 1 0 -2.9 0zM614.65 382.48a1.45 1.45 0 1 0 2.9 0a1.45 1.45 0 1 0 -2.9 0zM614.65 386.64a1.45 1.45 0 1 0 2.9 0a1.45 1.45 0 1 0 -2.9 0zM614.65 390.80a1.45 1.45 0 1 0 2.9 0a1.45 1.45 0 1 0 -2.9 0zM614.65 394.96a1.45 1.45 0 1 0 2.9 0a1.45 1.45 0 1 0 -2.9 0zM614.65 399.12a1.45 1.45 0 1 0 2.9 0a1.45 1.45 0 1 0 -2.9 0zM614.65 403.28a1.45 1.45 0 1 0 2.9 0a1.45 1.45 0 1 0 -2.9 0zM614.65 407.44a1.45 1.45 0 1 0 2.9 0a1.45 1.45 0 1 0 -2.9 0zM614.65 411.60a1.45 1.45 0 1 0 2.9 0a1.45 1.45 0 1 0 -2.9 0zM614.65 415.76a1.45 1.45 0 1 0 2.9 0a1.45 1.45 0 1 0 -2.9 0zM614.65 419.92a1.45 1.45 0 1 0 2.9 0a1.45 1.45 0 1 0 -2.9 0zM614.65 424.08a1.45 1.45 0 1 0 2.9 0a1.45 1.45 0 1 0 -2.9 0zM614.65 428.24a1.45 1.45 0 1 0 2.9 0a1.45 1.45 0 1 0 -2.9 0zM614.65 432.40a1.45 1.45 0 1 0 2.9 0a1.45 1.45 0 1 0 -2.9 0zM614.65 436.56a1.45 1.45 0 1 0 2.9 0a1.45 1.45 0 1 0 -2.9 0zM614.65 440.72a1.45 1.45 0 1 0 2.9 0a1.45 1.45 0 1 0 -2.9 0zM614.65 444.88a1.45 1.45 0 1 0 2.9 0a1.45 1.45 0 1 0 -2.9 0zM614.65 449.04a1.45 1.45 0 1 0 2.9 0a1.45 1.45 0 1 0 -2.9 0zM614.65 453.20a1.45 1.45 0 1 0 2.9 0a1.45 1.45 0 1 0 -2.9 0zM614.65 457.36a1.45 1.45 0 1 0 2.9 0a1.45 1.45 0 1 0 -2.9 0zM614.65 461.52a1.45 1.45 0 1 0 2.9 0a1.45 1.45 0 1 0 -2.9 0zM614.65 465.68a1.45 1.45 0 1 0 2.9 0a1.45 1.45 0 1 0 -2.9 0zM614.65 469.84a1.45 1.45 0 1 0 2.9 0a1.45 1.45 0 1 0 -2.9 0zM614.65 474.00a1.45 1.45 0 1 0 2.9 0a1.45 1.45 0 1 0 -2.9 0zM618.75 303.44a1.45 1.45 0 1 0 2.9 0a1.45 1.45 0 1 0 -2.9 0zM618.75 307.60a1.45 1.45 0 1 0 2.9 0a1.45 1.45 0 1 0 -2.9 0zM618.75 311.76a1.45 1.45 0 1 0 2.9 0a1.45 1.45 0 1 0 -2.9 0zM618.75 315.92a1.45 1.45 0 1 0 2.9 0a1.45 1.45 0 1 0 -2.9 0zM618.75 320.08a1.45 1.45 0 1 0 2.9 0a1.45 1.45 0 1 0 -2.9 0zM618.75 324.24a1.45 1.45 0 1 0 2.9 0a1.45 1.45 0 1 0 -2.9 0zM618.75 328.40a1.45 1.45 0 1 0 2.9 0a1.45 1.45 0 1 0 -2.9 0zM618.75 332.56a1.45 1.45 0 1 0 2.9 0a1.45 1.45 0 1 0 -2.9 0zM618.75 336.72a1.45 1.45 0 1 0 2.9 0a1.45 1.45 0 1 0 -2.9 0zM618.75 340.88a1.45 1.45 0 1 0 2.9 0a1.45 1.45 0 1 0 -2.9 0zM618.75 345.04a1.45 1.45 0 1 0 2.9 0a1.45 1.45 0 1 0 -2.9 0zM618.75 349.20a1.45 1.45 0 1 0 2.9 0a1.45 1.45 0 1 0 -2.9 0zM618.75 353.36a1.45 1.45 0 1 0 2.9 0a1.45 1.45 0 1 0 -2.9 0zM618.75 357.52a1.45 1.45 0 1 0 2.9 0a1.45 1.45 0 1 0 -2.9 0zM618.75 361.68a1.45 1.45 0 1 0 2.9 0a1.45 1.45 0 1 0 -2.9 0zM618.75 365.84a1.45 1.45 0 1 0 2.9 0a1.45 1.45 0 1 0 -2.9 0zM618.75 370.00a1.45 1.45 0 1 0 2.9 0a1.45 1.45 0 1 0 -2.9 0zM618.75 374.16a1.45 1.45 0 1 0 2.9 0a1.45 1.45 0 1 0 -2.9 0zM618.75 378.32a1.45 1.45 0 1 0 2.9 0a1.45 1.45 0 1 0 -2.9 0zM618.75 382.48a1.45 1.45 0 1 0 2.9 0a1.45 1.45 0 1 0 -2.9 0zM618.75 386.64a1.45 1.45 0 1 0 2.9 0a1.45 1.45 0 1 0 -2.9 0zM618.75 390.80a1.45 1.45 0 1 0 2.9 0a1.45 1.45 0 1 0 -2.9 0zM618.75 394.96a1.45 1.45 0 1 0 2.9 0a1.45 1.45 0 1 0 -2.9 0zM618.75 399.12a1.45 1.45 0 1 0 2.9 0a1.45 1.45 0 1 0 -2.9 0zM618.75 403.28a1.45 1.45 0 1 0 2.9 0a1.45 1.45 0 1 0 -2.9 0zM618.75 407.44a1.45 1.45 0 1 0 2.9 0a1.45 1.45 0 1 0 -2.9 0zM618.75 411.60a1.45 1.45 0 1 0 2.9 0a1.45 1.45 0 1 0 -2.9 0zM618.75 415.76a1.45 1.45 0 1 0 2.9 0a1.45 1.45 0 1 0 -2.9 0zM618.75 419.92a1.45 1.45 0 1 0 2.9 0a1.45 1.45 0 1 0 -2.9 0zM618.75 424.08a1.45 1.45 0 1 0 2.9 0a1.45 1.45 0 1 0 -2.9 0zM618.75 428.24a1.45 1.45 0 1 0 2.9 0a1.45 1.45 0 1 0 -2.9 0zM618.75 432.40a1.45 1.45 0 1 0 2.9 0a1.45 1.45 0 1 0 -2.9 0zM618.75 436.56a1.45 1.45 0 1 0 2.9 0a1.45 1.45 0 1 0 -2.9 0zM618.75 440.72a1.45 1.45 0 1 0 2.9 0a1.45 1.45 0 1 0 -2.9 0zM618.75 444.88a1.45 1.45 0 1 0 2.9 0a1.45 1.45 0 1 0 -2.9 0zM618.75 449.04a1.45 1.45 0 1 0 2.9 0a1.45 1.45 0 1 0 -2.9 0zM618.75 453.20a1.45 1.45 0 1 0 2.9 0a1.45 1.45 0 1 0 -2.9 0zM618.75 457.36a1.45 1.45 0 1 0 2.9 0a1.45 1.45 0 1 0 -2.9 0zM618.75 461.52a1.45 1.45 0 1 0 2.9 0a1.45 1.45 0 1 0 -2.9 0zM618.75 465.68a1.45 1.45 0 1 0 2.9 0a1.45 1.45 0 1 0 -2.9 0zM618.75 469.84a1.45 1.45 0 1 0 2.9 0a1.45 1.45 0 1 0 -2.9 0zM618.75 474.00a1.45 1.45 0 1 0 2.9 0a1.45 1.45 0 1 0 -2.9 0zM622.85 303.44a1.45 1.45 0 1 0 2.9 0a1.45 1.45 0 1 0 -2.9 0zM622.85 307.60a1.45 1.45 0 1 0 2.9 0a1.45 1.45 0 1 0 -2.9 0zM622.85 311.76a1.45 1.45 0 1 0 2.9 0a1.45 1.45 0 1 0 -2.9 0zM622.85 315.92a1.45 1.45 0 1 0 2.9 0a1.45 1.45 0 1 0 -2.9 0zM622.85 320.08a1.45 1.45 0 1 0 2.9 0a1.45 1.45 0 1 0 -2.9 0zM622.85 324.24a1.45 1.45 0 1 0 2.9 0a1.45 1.45 0 1 0 -2.9 0zM622.85 328.40a1.45 1.45 0 1 0 2.9 0a1.45 1.45 0 1 0 -2.9 0zM622.85 332.56a1.45 1.45 0 1 0 2.9 0a1.45 1.45 0 1 0 -2.9 0zM622.85 336.72a1.45 1.45 0 1 0 2.9 0a1.45 1.45 0 1 0 -2.9 0zM622.85 340.88a1.45 1.45 0 1 0 2.9 0a1.45 1.45 0 1 0 -2.9 0zM622.85 345.04a1.45 1.45 0 1 0 2.9 0a1.45 1.45 0 1 0 -2.9 0zM622.85 349.20a1.45 1.45 0 1 0 2.9 0a1.45 1.45 0 1 0 -2.9 0zM622.85 353.36a1.45 1.45 0 1 0 2.9 0a1.45 1.45 0 1 0 -2.9 0zM622.85 357.52a1.45 1.45 0 1 0 2.9 0a1.45 1.45 0 1 0 -2.9 0zM622.85 361.68a1.45 1.45 0 1 0 2.9 0a1.45 1.45 0 1 0 -2.9 0zM622.85 365.84a1.45 1.45 0 1 0 2.9 0a1.45 1.45 0 1 0 -2.9 0zM622.85 370.00a1.45 1.45 0 1 0 2.9 0a1.45 1.45 0 1 0 -2.9 0zM622.85 374.16a1.45 1.45 0 1 0 2.9 0a1.45 1.45 0 1 0 -2.9 0zM622.85 378.32a1.45 1.45 0 1 0 2.9 0a1.45 1.45 0 1 0 -2.9 0zM622.85 382.48a1.45 1.45 0 1 0 2.9 0a1.45 1.45 0 1 0 -2.9 0zM622.85 386.64a1.45 1.45 0 1 0 2.9 0a1.45 1.45 0 1 0 -2.9 0zM622.85 390.80a1.45 1.45 0 1 0 2.9 0a1.45 1.45 0 1 0 -2.9 0zM622.85 394.96a1.45 1.45 0 1 0 2.9 0a1.45 1.45 0 1 0 -2.9 0zM622.85 399.12a1.45 1.45 0 1 0 2.9 0a1.45 1.45 0 1 0 -2.9 0zM622.85 403.28a1.45 1.45 0 1 0 2.9 0a1.45 1.45 0 1 0 -2.9 0zM622.85 407.44a1.45 1.45 0 1 0 2.9 0a1.45 1.45 0 1 0 -2.9 0zM622.85 411.60a1.45 1.45 0 1 0 2.9 0a1.45 1.45 0 1 0 -2.9 0zM622.85 415.76a1.45 1.45 0 1 0 2.9 0a1.45 1.45 0 1 0 -2.9 0zM622.85 419.92a1.45 1.45 0 1 0 2.9 0a1.45 1.45 0 1 0 -2.9 0zM622.85 424.08a1.45 1.45 0 1 0 2.9 0a1.45 1.45 0 1 0 -2.9 0zM622.85 428.24a1.45 1.45 0 1 0 2.9 0a1.45 1.45 0 1 0 -2.9 0zM622.85 432.40a1.45 1.45 0 1 0 2.9 0a1.45 1.45 0 1 0 -2.9 0zM622.85 436.56a1.45 1.45 0 1 0 2.9 0a1.45 1.45 0 1 0 -2.9 0zM622.85 440.72a1.45 1.45 0 1 0 2.9 0a1.45 1.45 0 1 0 -2.9 0zM622.85 444.88a1.45 1.45 0 1 0 2.9 0a1.45 1.45 0 1 0 -2.9 0zM622.85 449.04a1.45 1.45 0 1 0 2.9 0a1.45 1.45 0 1 0 -2.9 0zM622.85 453.20a1.45 1.45 0 1 0 2.9 0a1.45 1.45 0 1 0 -2.9 0zM622.85 457.36a1.45 1.45 0 1 0 2.9 0a1.45 1.45 0 1 0 -2.9 0zM622.85 461.52a1.45 1.45 0 1 0 2.9 0a1.45 1.45 0 1 0 -2.9 0zM622.85 465.68a1.45 1.45 0 1 0 2.9 0a1.45 1.45 0 1 0 -2.9 0zM622.85 469.84a1.45 1.45 0 1 0 2.9 0a1.45 1.45 0 1 0 -2.9 0zM622.85 474.00a1.45 1.45 0 1 0 2.9 0a1.45 1.45 0 1 0 -2.9 0zM626.95 303.44a1.45 1.45 0 1 0 2.9 0a1.45 1.45 0 1 0 -2.9 0zM626.95 307.60a1.45 1.45 0 1 0 2.9 0a1.45 1.45 0 1 0 -2.9 0zM626.95 311.76a1.45 1.45 0 1 0 2.9 0a1.45 1.45 0 1 0 -2.9 0zM626.95 315.92a1.45 1.45 0 1 0 2.9 0a1.45 1.45 0 1 0 -2.9 0zM626.95 320.08a1.45 1.45 0 1 0 2.9 0a1.45 1.45 0 1 0 -2.9 0zM626.95 324.24a1.45 1.45 0 1 0 2.9 0a1.45 1.45 0 1 0 -2.9 0zM626.95 328.40a1.45 1.45 0 1 0 2.9 0a1.45 1.45 0 1 0 -2.9 0zM626.95 332.56a1.45 1.45 0 1 0 2.9 0a1.45 1.45 0 1 0 -2.9 0zM626.95 336.72a1.45 1.45 0 1 0 2.9 0a1.45 1.45 0 1 0 -2.9 0zM626.95 340.88a1.45 1.45 0 1 0 2.9 0a1.45 1.45 0 1 0 -2.9 0zM626.95 345.04a1.45 1.45 0 1 0 2.9 0a1.45 1.45 0 1 0 -2.9 0zM626.95 349.20a1.45 1.45 0 1 0 2.9 0a1.45 1.45 0 1 0 -2.9 0zM626.95 353.36a1.45 1.45 0 1 0 2.9 0a1.45 1.45 0 1 0 -2.9 0zM626.95 357.52a1.45 1.45 0 1 0 2.9 0a1.45 1.45 0 1 0 -2.9 0zM626.95 361.68a1.45 1.45 0 1 0 2.9 0a1.45 1.45 0 1 0 -2.9 0zM626.95 365.84a1.45 1.45 0 1 0 2.9 0a1.45 1.45 0 1 0 -2.9 0zM626.95 370.00a1.45 1.45 0 1 0 2.9 0a1.45 1.45 0 1 0 -2.9 0zM626.95 374.16a1.45 1.45 0 1 0 2.9 0a1.45 1.45 0 1 0 -2.9 0zM626.95 378.32a1.45 1.45 0 1 0 2.9 0a1.45 1.45 0 1 0 -2.9 0zM626.95 382.48a1.45 1.45 0 1 0 2.9 0a1.45 1.45 0 1 0 -2.9 0zM626.95 386.64a1.45 1.45 0 1 0 2.9 0a1.45 1.45 0 1 0 -2.9 0zM626.95 390.80a1.45 1.45 0 1 0 2.9 0a1.45 1.45 0 1 0 -2.9 0zM626.95 394.96a1.45 1.45 0 1 0 2.9 0a1.45 1.45 0 1 0 -2.9 0zM626.95 399.12a1.45 1.45 0 1 0 2.9 0a1.45 1.45 0 1 0 -2.9 0zM626.95 403.28a1.45 1.45 0 1 0 2.9 0a1.45 1.45 0 1 0 -2.9 0zM626.95 407.44a1.45 1.45 0 1 0 2.9 0a1.45 1.45 0 1 0 -2.9 0zM626.95 411.60a1.45 1.45 0 1 0 2.9 0a1.45 1.45 0 1 0 -2.9 0zM626.95 415.76a1.45 1.45 0 1 0 2.9 0a1.45 1.45 0 1 0 -2.9 0zM626.95 419.92a1.45 1.45 0 1 0 2.9 0a1.45 1.45 0 1 0 -2.9 0zM626.95 424.08a1.45 1.45 0 1 0 2.9 0a1.45 1.45 0 1 0 -2.9 0zM626.95 428.24a1.45 1.45 0 1 0 2.9 0a1.45 1.45 0 1 0 -2.9 0zM626.95 432.40a1.45 1.45 0 1 0 2.9 0a1.45 1.45 0 1 0 -2.9 0zM626.95 436.56a1.45 1.45 0 1 0 2.9 0a1.45 1.45 0 1 0 -2.9 0zM626.95 440.72a1.45 1.45 0 1 0 2.9 0a1.45 1.45 0 1 0 -2.9 0zM626.95 444.88a1.45 1.45 0 1 0 2.9 0a1.45 1.45 0 1 0 -2.9 0zM626.95 449.04a1.45 1.45 0 1 0 2.9 0a1.45 1.45 0 1 0 -2.9 0zM626.95 453.20a1.45 1.45 0 1 0 2.9 0a1.45 1.45 0 1 0 -2.9 0zM626.95 457.36a1.45 1.45 0 1 0 2.9 0a1.45 1.45 0 1 0 -2.9 0zM626.95 461.52a1.45 1.45 0 1 0 2.9 0a1.45 1.45 0 1 0 -2.9 0zM626.95 465.68a1.45 1.45 0 1 0 2.9 0a1.45 1.45 0 1 0 -2.9 0zM626.95 469.84a1.45 1.45 0 1 0 2.9 0a1.45 1.45 0 1 0 -2.9 0zM626.95 474.00a1.45 1.45 0 1 0 2.9 0a1.45 1.45 0 1 0 -2.9 0z" fill="#000"/>
<rect x="612.60" y="304.90" width="17.00" height="169.80" fill="none" stroke="#858585" stroke-width="1"/>
<line x1="621.5" y1="304.4" x2="621.5" y2="271.0" stroke="#4a4a4a" stroke-width="1"/>
<line x1="619.25" y1="271.5" x2="623.75" y2="271.5" stroke="#4a4a4a" stroke-width="1"/>
<rect x="653.80" y="382.20" width="16.40" height="92.50" fill="#000"/>
<line x1="662.5" y1="382.2" x2="662.5" y2="369.0" stroke="#4a4a4a" stroke-width="1"/>
<line x1="660.25" y1="369.5" x2="664.75" y2="369.5" stroke="#4a4a4a" stroke-width="1"/>
<clipPath id="cb7"><rect x="672.30" y="375.50" width="17.40" height="99.20"/></clipPath>
<rect x="672.30" y="375.50" width="17.40" height="99.20" fill="#fff"/>
<path clip-path="url(#cb7)" d="M671.30 375.57L690.70 356.83M671.30 379.37L690.70 360.63M671.30 383.17L690.70 364.43M671.30 386.97L690.70 368.23M671.30 390.77L690.70 372.03M671.30 394.57L690.70 375.83M671.30 398.37L690.70 379.63M671.30 402.17L690.70 383.43M671.30 405.97L690.70 387.23M671.30 409.77L690.70 391.03M671.30 413.57L690.70 394.83M671.30 417.37L690.70 398.63M671.30 421.17L690.70 402.43M671.30 424.97L690.70 406.23M671.30 428.77L690.70 410.03M671.30 432.57L690.70 413.83M671.30 436.37L690.70 417.63M671.30 440.17L690.70 421.43M671.30 443.97L690.70 425.23M671.30 447.77L690.70 429.03M671.30 451.57L690.70 432.83M671.30 455.37L690.70 436.63M671.30 459.17L690.70 440.43M671.30 462.97L690.70 444.23M671.30 466.77L690.70 448.03M671.30 470.57L690.70 451.83M671.30 474.37L690.70 455.63M671.30 478.17L690.70 459.43M671.30 481.97L690.70 463.23M671.30 485.77L690.70 467.03M671.30 489.57L690.70 470.83M671.30 493.37L690.70 474.63M671.30 497.17L690.70 478.43" stroke="#000" stroke-width="1.32" fill="none"/>
<rect x="672.30" y="375.50" width="17.40" height="99.20" fill="none" stroke="#858585" stroke-width="1"/>
<line x1="680.5" y1="375.0" x2="680.5" y2="366.0" stroke="#4a4a4a" stroke-width="1"/>
<line x1="678.25" y1="366.5" x2="682.75" y2="366.5" stroke="#4a4a4a" stroke-width="1"/>
<clipPath id="cb8"><rect x="690.70" y="346.00" width="16.50" height="128.70"/></clipPath>
<rect x="690.70" y="346.00" width="16.50" height="128.70" fill="#fff"/>
<rect x="705.80" y="345.50" width="2.70" height="129.20" fill="#a2a2a2"/>
<rect x="690.70" y="346.00" width="16.50" height="128.70" fill="none" stroke="#858585" stroke-width="1"/>
<line x1="698.5" y1="345.5" x2="698.5" y2="328.0" stroke="#4a4a4a" stroke-width="1"/>
<line x1="696.25" y1="328.5" x2="700.75" y2="328.5" stroke="#4a4a4a" stroke-width="1"/>
<clipPath id="cb9"><rect x="708.20" y="317.30" width="17.10" height="157.40"/></clipPath>
<rect x="708.20" y="317.30" width="17.10" height="157.40" fill="#fff"/>
<path clip-path="url(#cb9)" d="M705.75 317.20a1.45 1.45 0 1 0 2.9 0a1.45 1.45 0 1 0 -2.9 0zM705.75 321.36a1.45 1.45 0 1 0 2.9 0a1.45 1.45 0 1 0 -2.9 0zM705.75 325.52a1.45 1.45 0 1 0 2.9 0a1.45 1.45 0 1 0 -2.9 0zM705.75 329.68a1.45 1.45 0 1 0 2.9 0a1.45 1.45 0 1 0 -2.9 0zM705.75 333.84a1.45 1.45 0 1 0 2.9 0a1.45 1.45 0 1 0 -2.9 0zM705.75 338.00a1.45 1.45 0 1 0 2.9 0a1.45 1.45 0 1 0 -2.9 0zM705.75 342.16a1.45 1.45 0 1 0 2.9 0a1.45 1.45 0 1 0 -2.9 0zM705.75 346.32a1.45 1.45 0 1 0 2.9 0a1.45 1.45 0 1 0 -2.9 0zM705.75 350.48a1.45 1.45 0 1 0 2.9 0a1.45 1.45 0 1 0 -2.9 0zM705.75 354.64a1.45 1.45 0 1 0 2.9 0a1.45 1.45 0 1 0 -2.9 0zM705.75 358.80a1.45 1.45 0 1 0 2.9 0a1.45 1.45 0 1 0 -2.9 0zM705.75 362.96a1.45 1.45 0 1 0 2.9 0a1.45 1.45 0 1 0 -2.9 0zM705.75 367.12a1.45 1.45 0 1 0 2.9 0a1.45 1.45 0 1 0 -2.9 0zM705.75 371.28a1.45 1.45 0 1 0 2.9 0a1.45 1.45 0 1 0 -2.9 0zM705.75 375.44a1.45 1.45 0 1 0 2.9 0a1.45 1.45 0 1 0 -2.9 0zM705.75 379.60a1.45 1.45 0 1 0 2.9 0a1.45 1.45 0 1 0 -2.9 0zM705.75 383.76a1.45 1.45 0 1 0 2.9 0a1.45 1.45 0 1 0 -2.9 0zM705.75 387.92a1.45 1.45 0 1 0 2.9 0a1.45 1.45 0 1 0 -2.9 0zM705.75 392.08a1.45 1.45 0 1 0 2.9 0a1.45 1.45 0 1 0 -2.9 0zM705.75 396.24a1.45 1.45 0 1 0 2.9 0a1.45 1.45 0 1 0 -2.9 0zM705.75 400.40a1.45 1.45 0 1 0 2.9 0a1.45 1.45 0 1 0 -2.9 0zM705.75 404.56a1.45 1.45 0 1 0 2.9 0a1.45 1.45 0 1 0 -2.9 0zM705.75 408.72a1.45 1.45 0 1 0 2.9 0a1.45 1.45 0 1 0 -2.9 0zM705.75 412.88a1.45 1.45 0 1 0 2.9 0a1.45 1.45 0 1 0 -2.9 0zM705.75 417.04a1.45 1.45 0 1 0 2.9 0a1.45 1.45 0 1 0 -2.9 0zM705.75 421.20a1.45 1.45 0 1 0 2.9 0a1.45 1.45 0 1 0 -2.9 0zM705.75 425.36a1.45 1.45 0 1 0 2.9 0a1.45 1.45 0 1 0 -2.9 0zM705.75 429.52a1.45 1.45 0 1 0 2.9 0a1.45 1.45 0 1 0 -2.9 0zM705.75 433.68a1.45 1.45 0 1 0 2.9 0a1.45 1.45 0 1 0 -2.9 0zM705.75 437.84a1.45 1.45 0 1 0 2.9 0a1.45 1.45 0 1 0 -2.9 0zM705.75 442.00a1.45 1.45 0 1 0 2.9 0a1.45 1.45 0 1 0 -2.9 0zM705.75 446.16a1.45 1.45 0 1 0 2.9 0a1.45 1.45 0 1 0 -2.9 0zM705.75 450.32a1.45 1.45 0 1 0 2.9 0a1.45 1.45 0 1 0 -2.9 0zM705.75 454.48a1.45 1.45 0 1 0 2.9 0a1.45 1.45 0 1 0 -2.9 0zM705.75 458.64a1.45 1.45 0 1 0 2.9 0a1.45 1.45 0 1 0 -2.9 0zM705.75 462.80a1.45 1.45 0 1 0 2.9 0a1.45 1.45 0 1 0 -2.9 0zM705.75 466.96a1.45 1.45 0 1 0 2.9 0a1.45 1.45 0 1 0 -2.9 0zM705.75 471.12a1.45 1.45 0 1 0 2.9 0a1.45 1.45 0 1 0 -2.9 0zM705.75 475.28a1.45 1.45 0 1 0 2.9 0a1.45 1.45 0 1 0 -2.9 0zM709.85 317.20a1.45 1.45 0 1 0 2.9 0a1.45 1.45 0 1 0 -2.9 0zM709.85 321.36a1.45 1.45 0 1 0 2.9 0a1.45 1.45 0 1 0 -2.9 0zM709.85 325.52a1.45 1.45 0 1 0 2.9 0a1.45 1.45 0 1 0 -2.9 0zM709.85 329.68a1.45 1.45 0 1 0 2.9 0a1.45 1.45 0 1 0 -2.9 0zM709.85 333.84a1.45 1.45 0 1 0 2.9 0a1.45 1.45 0 1 0 -2.9 0zM709.85 338.00a1.45 1.45 0 1 0 2.9 0a1.45 1.45 0 1 0 -2.9 0zM709.85 342.16a1.45 1.45 0 1 0 2.9 0a1.45 1.45 0 1 0 -2.9 0zM709.85 346.32a1.45 1.45 0 1 0 2.9 0a1.45 1.45 0 1 0 -2.9 0zM709.85 350.48a1.45 1.45 0 1 0 2.9 0a1.45 1.45 0 1 0 -2.9 0zM709.85 354.64a1.45 1.45 0 1 0 2.9 0a1.45 1.45 0 1 0 -2.9 0zM709.85 358.80a1.45 1.45 0 1 0 2.9 0a1.45 1.45 0 1 0 -2.9 0zM709.85 362.96a1.45 1.45 0 1 0 2.9 0a1.45 1.45 0 1 0 -2.9 0zM709.85 367.12a1.45 1.45 0 1 0 2.9 0a1.45 1.45 0 1 0 -2.9 0zM709.85 371.28a1.45 1.45 0 1 0 2.9 0a1.45 1.45 0 1 0 -2.9 0zM709.85 375.44a1.45 1.45 0 1 0 2.9 0a1.45 1.45 0 1 0 -2.9 0zM709.85 379.60a1.45 1.45 0 1 0 2.9 0a1.45 1.45 0 1 0 -2.9 0zM709.85 383.76a1.45 1.45 0 1 0 2.9 0a1.45 1.45 0 1 0 -2.9 0zM709.85 387.92a1.45 1.45 0 1 0 2.9 0a1.45 1.45 0 1 0 -2.9 0zM709.85 392.08a1.45 1.45 0 1 0 2.9 0a1.45 1.45 0 1 0 -2.9 0zM709.85 396.24a1.45 1.45 0 1 0 2.9 0a1.45 1.45 0 1 0 -2.9 0zM709.85 400.40a1.45 1.45 0 1 0 2.9 0a1.45 1.45 0 1 0 -2.9 0zM709.85 404.56a1.45 1.45 0 1 0 2.9 0a1.45 1.45 0 1 0 -2.9 0zM709.85 408.72a1.45 1.45 0 1 0 2.9 0a1.45 1.45 0 1 0 -2.9 0zM709.85 412.88a1.45 1.45 0 1 0 2.9 0a1.45 1.45 0 1 0 -2.9 0zM709.85 417.04a1.45 1.45 0 1 0 2.9 0a1.45 1.45 0 1 0 -2.9 0zM709.85 421.20a1.45 1.45 0 1 0 2.9 0a1.45 1.45 0 1 0 -2.9 0zM709.85 425.36a1.45 1.45 0 1 0 2.9 0a1.45 1.45 0 1 0 -2.9 0zM709.85 429.52a1.45 1.45 0 1 0 2.9 0a1.45 1.45 0 1 0 -2.9 0zM709.85 433.68a1.45 1.45 0 1 0 2.9 0a1.45 1.45 0 1 0 -2.9 0zM709.85 437.84a1.45 1.45 0 1 0 2.9 0a1.45 1.45 0 1 0 -2.9 0zM709.85 442.00a1.45 1.45 0 1 0 2.9 0a1.45 1.45 0 1 0 -2.9 0zM709.85 446.16a1.45 1.45 0 1 0 2.9 0a1.45 1.45 0 1 0 -2.9 0zM709.85 450.32a1.45 1.45 0 1 0 2.9 0a1.45 1.45 0 1 0 -2.9 0zM709.85 454.48a1.45 1.45 0 1 0 2.9 0a1.45 1.45 0 1 0 -2.9 0zM709.85 458.64a1.45 1.45 0 1 0 2.9 0a1.45 1.45 0 1 0 -2.9 0zM709.85 462.80a1.45 1.45 0 1 0 2.9 0a1.45 1.45 0 1 0 -2.9 0zM709.85 466.96a1.45 1.45 0 1 0 2.9 0a1.45 1.45 0 1 0 -2.9 0zM709.85 471.12a1.45 1.45 0 1 0 2.9 0a1.45 1.45 0 1 0 -2.9 0zM709.85 475.28a1.45 1.45 0 1 0 2.9 0a1.45 1.45 0 1 0 -2.9 0zM713.95 317.20a1.45 1.45 0 1 0 2.9 0a1.45 1.45 0 1 0 -2.9 0zM713.95 321.36a1.45 1.45 0 1 0 2.9 0a1.45 1.45 0 1 0 -2.9 0zM713.95 325.52a1.45 1.45 0 1 0 2.9 0a1.45 1.45 0 1 0 -2.9 0zM713.95 329.68a1.45 1.45 0 1 0 2.9 0a1.45 1.45 0 1 0 -2.9 0zM713.95 333.84a1.45 1.45 0 1 0 2.9 0a1.45 1.45 0 1 0 -2.9 0zM713.95 338.00a1.45 1.45 0 1 0 2.9 0a1.45 1.45 0 1 0 -2.9 0zM713.95 342.16a1.45 1.45 0 1 0 2.9 0a1.45 1.45 0 1 0 -2.9 0zM713.95 346.32a1.45 1.45 0 1 0 2.9 0a1.45 1.45 0 1 0 -2.9 0zM713.95 350.48a1.45 1.45 0 1 0 2.9 0a1.45 1.45 0 1 0 -2.9 0zM713.95 354.64a1.45 1.45 0 1 0 2.9 0a1.45 1.45 0 1 0 -2.9 0zM713.95 358.80a1.45 1.45 0 1 0 2.9 0a1.45 1.45 0 1 0 -2.9 0zM713.95 362.96a1.45 1.45 0 1 0 2.9 0a1.45 1.45 0 1 0 -2.9 0zM713.95 367.12a1.45 1.45 0 1 0 2.9 0a1.45 1.45 0 1 0 -2.9 0zM713.95 371.28a1.45 1.45 0 1 0 2.9 0a1.45 1.45 0 1 0 -2.9 0zM713.95 375.44a1.45 1.45 0 1 0 2.9 0a1.45 1.45 0 1 0 -2.9 0zM713.95 379.60a1.45 1.45 0 1 0 2.9 0a1.45 1.45 0 1 0 -2.9 0zM713.95 383.76a1.45 1.45 0 1 0 2.9 0a1.45 1.45 0 1 0 -2.9 0zM713.95 387.92a1.45 1.45 0 1 0 2.9 0a1.45 1.45 0 1 0 -2.9 0zM713.95 392.08a1.45 1.45 0 1 0 2.9 0a1.45 1.45 0 1 0 -2.9 0zM713.95 396.24a1.45 1.45 0 1 0 2.9 0a1.45 1.45 0 1 0 -2.9 0zM713.95 400.40a1.45 1.45 0 1 0 2.9 0a1.45 1.45 0 1 0 -2.9 0zM713.95 404.56a1.45 1.45 0 1 0 2.9 0a1.45 1.45 0 1 0 -2.9 0zM713.95 408.72a1.45 1.45 0 1 0 2.9 0a1.45 1.45 0 1 0 -2.9 0zM713.95 412.88a1.45 1.45 0 1 0 2.9 0a1.45 1.45 0 1 0 -2.9 0zM713.95 417.04a1.45 1.45 0 1 0 2.9 0a1.45 1.45 0 1 0 -2.9 0zM713.95 421.20a1.45 1.45 0 1 0 2.9 0a1.45 1.45 0 1 0 -2.9 0zM713.95 425.36a1.45 1.45 0 1 0 2.9 0a1.45 1.45 0 1 0 -2.9 0zM713.95 429.52a1.45 1.45 0 1 0 2.9 0a1.45 1.45 0 1 0 -2.9 0zM713.95 433.68a1.45 1.45 0 1 0 2.9 0a1.45 1.45 0 1 0 -2.9 0zM713.95 437.84a1.45 1.45 0 1 0 2.9 0a1.45 1.45 0 1 0 -2.9 0zM713.95 442.00a1.45 1.45 0 1 0 2.9 0a1.45 1.45 0 1 0 -2.9 0zM713.95 446.16a1.45 1.45 0 1 0 2.9 0a1.45 1.45 0 1 0 -2.9 0zM713.95 450.32a1.45 1.45 0 1 0 2.9 0a1.45 1.45 0 1 0 -2.9 0zM713.95 454.48a1.45 1.45 0 1 0 2.9 0a1.45 1.45 0 1 0 -2.9 0zM713.95 458.64a1.45 1.45 0 1 0 2.9 0a1.45 1.45 0 1 0 -2.9 0zM713.95 462.80a1.45 1.45 0 1 0 2.9 0a1.45 1.45 0 1 0 -2.9 0zM713.95 466.96a1.45 1.45 0 1 0 2.9 0a1.45 1.45 0 1 0 -2.9 0zM713.95 471.12a1.45 1.45 0 1 0 2.9 0a1.45 1.45 0 1 0 -2.9 0zM713.95 475.28a1.45 1.45 0 1 0 2.9 0a1.45 1.45 0 1 0 -2.9 0zM718.05 317.20a1.45 1.45 0 1 0 2.9 0a1.45 1.45 0 1 0 -2.9 0zM718.05 321.36a1.45 1.45 0 1 0 2.9 0a1.45 1.45 0 1 0 -2.9 0zM718.05 325.52a1.45 1.45 0 1 0 2.9 0a1.45 1.45 0 1 0 -2.9 0zM718.05 329.68a1.45 1.45 0 1 0 2.9 0a1.45 1.45 0 1 0 -2.9 0zM718.05 333.84a1.45 1.45 0 1 0 2.9 0a1.45 1.45 0 1 0 -2.9 0zM718.05 338.00a1.45 1.45 0 1 0 2.9 0a1.45 1.45 0 1 0 -2.9 0zM718.05 342.16a1.45 1.45 0 1 0 2.9 0a1.45 1.45 0 1 0 -2.9 0zM718.05 346.32a1.45 1.45 0 1 0 2.9 0a1.45 1.45 0 1 0 -2.9 0zM718.05 350.48a1.45 1.45 0 1 0 2.9 0a1.45 1.45 0 1 0 -2.9 0zM718.05 354.64a1.45 1.45 0 1 0 2.9 0a1.45 1.45 0 1 0 -2.9 0zM718.05 358.80a1.45 1.45 0 1 0 2.9 0a1.45 1.45 0 1 0 -2.9 0zM718.05 362.96a1.45 1.45 0 1 0 2.9 0a1.45 1.45 0 1 0 -2.9 0zM718.05 367.12a1.45 1.45 0 1 0 2.9 0a1.45 1.45 0 1 0 -2.9 0zM718.05 371.28a1.45 1.45 0 1 0 2.9 0a1.45 1.45 0 1 0 -2.9 0zM718.05 375.44a1.45 1.45 0 1 0 2.9 0a1.45 1.45 0 1 0 -2.9 0zM718.05 379.60a1.45 1.45 0 1 0 2.9 0a1.45 1.45 0 1 0 -2.9 0zM718.05 383.76a1.45 1.45 0 1 0 2.9 0a1.45 1.45 0 1 0 -2.9 0zM718.05 387.92a1.45 1.45 0 1 0 2.9 0a1.45 1.45 0 1 0 -2.9 0zM718.05 392.08a1.45 1.45 0 1 0 2.9 0a1.45 1.45 0 1 0 -2.9 0zM718.05 396.24a1.45 1.45 0 1 0 2.9 0a1.45 1.45 0 1 0 -2.9 0zM718.05 400.40a1.45 1.45 0 1 0 2.9 0a1.45 1.45 0 1 0 -2.9 0zM718.05 404.56a1.45 1.45 0 1 0 2.9 0a1.45 1.45 0 1 0 -2.9 0zM718.05 408.72a1.45 1.45 0 1 0 2.9 0a1.45 1.45 0 1 0 -2.9 0zM718.05 412.88a1.45 1.45 0 1 0 2.9 0a1.45 1.45 0 1 0 -2.9 0zM718.05 417.04a1.45 1.45 0 1 0 2.9 0a1.45 1.45 0 1 0 -2.9 0zM718.05 421.20a1.45 1.45 0 1 0 2.9 0a1.45 1.45 0 1 0 -2.9 0zM718.05 425.36a1.45 1.45 0 1 0 2.9 0a1.45 1.45 0 1 0 -2.9 0zM718.05 429.52a1.45 1.45 0 1 0 2.9 0a1.45 1.45 0 1 0 -2.9 0zM718.05 433.68a1.45 1.45 0 1 0 2.9 0a1.45 1.45 0 1 0 -2.9 0zM718.05 437.84a1.45 1.45 0 1 0 2.9 0a1.45 1.45 0 1 0 -2.9 0zM718.05 442.00a1.45 1.45 0 1 0 2.9 0a1.45 1.45 0 1 0 -2.9 0zM718.05 446.16a1.45 1.45 0 1 0 2.9 0a1.45 1.45 0 1 0 -2.9 0zM718.05 450.32a1.45 1.45 0 1 0 2.9 0a1.45 1.45 0 1 0 -2.9 0zM718.05 454.48a1.45 1.45 0 1 0 2.9 0a1.45 1.45 0 1 0 -2.9 0zM718.05 458.64a1.45 1.45 0 1 0 2.9 0a1.45 1.45 0 1 0 -2.9 0zM718.05 462.80a1.45 1.45 0 1 0 2.9 0a1.45 1.45 0 1 0 -2.9 0zM718.05 466.96a1.45 1.45 0 1 0 2.9 0a1.45 1.45 0 1 0 -2.9 0zM718.05 471.12a1.45 1.45 0 1 0 2.9 0a1.45 1.45 0 1 0 -2.9 0zM718.05 475.28a1.45 1.45 0 1 0 2.9 0a1.45 1.45 0 1 0 -2.9 0zM722.15 317.20a1.45 1.45 0 1 0 2.9 0a1.45 1.45 0 1 0 -2.9 0zM722.15 321.36a1.45 1.45 0 1 0 2.9 0a1.45 1.45 0 1 0 -2.9 0zM722.15 325.52a1.45 1.45 0 1 0 2.9 0a1.45 1.45 0 1 0 -2.9 0zM722.15 329.68a1.45 1.45 0 1 0 2.9 0a1.45 1.45 0 1 0 -2.9 0zM722.15 333.84a1.45 1.45 0 1 0 2.9 0a1.45 1.45 0 1 0 -2.9 0zM722.15 338.00a1.45 1.45 0 1 0 2.9 0a1.45 1.45 0 1 0 -2.9 0zM722.15 342.16a1.45 1.45 0 1 0 2.9 0a1.45 1.45 0 1 0 -2.9 0zM722.15 346.32a1.45 1.45 0 1 0 2.9 0a1.45 1.45 0 1 0 -2.9 0zM722.15 350.48a1.45 1.45 0 1 0 2.9 0a1.45 1.45 0 1 0 -2.9 0zM722.15 354.64a1.45 1.45 0 1 0 2.9 0a1.45 1.45 0 1 0 -2.9 0zM722.15 358.80a1.45 1.45 0 1 0 2.9 0a1.45 1.45 0 1 0 -2.9 0zM722.15 362.96a1.45 1.45 0 1 0 2.9 0a1.45 1.45 0 1 0 -2.9 0zM722.15 367.12a1.45 1.45 0 1 0 2.9 0a1.45 1.45 0 1 0 -2.9 0zM722.15 371.28a1.45 1.45 0 1 0 2.9 0a1.45 1.45 0 1 0 -2.9 0zM722.15 375.44a1.45 1.45 0 1 0 2.9 0a1.45 1.45 0 1 0 -2.9 0zM722.15 379.60a1.45 1.45 0 1 0 2.9 0a1.45 1.45 0 1 0 -2.9 0zM722.15 383.76a1.45 1.45 0 1 0 2.9 0a1.45 1.45 0 1 0 -2.9 0zM722.15 387.92a1.45 1.45 0 1 0 2.9 0a1.45 1.45 0 1 0 -2.9 0zM722.15 392.08a1.45 1.45 0 1 0 2.9 0a1.45 1.45 0 1 0 -2.9 0zM722.15 396.24a1.45 1.45 0 1 0 2.9 0a1.45 1.45 0 1 0 -2.9 0zM722.15 400.40a1.45 1.45 0 1 0 2.9 0a1.45 1.45 0 1 0 -2.9 0zM722.15 404.56a1.45 1.45 0 1 0 2.9 0a1.45 1.45 0 1 0 -2.9 0zM722.15 408.72a1.45 1.45 0 1 0 2.9 0a1.45 1.45 0 1 0 -2.9 0zM722.15 412.88a1.45 1.45 0 1 0 2.9 0a1.45 1.45 0 1 0 -2.9 0zM722.15 417.04a1.45 1.45 0 1 0 2.9 0a1.45 1.45 0 1 0 -2.9 0zM722.15 421.20a1.45 1.45 0 1 0 2.9 0a1.45 1.45 0 1 0 -2.9 0zM722.15 425.36a1.45 1.45 0 1 0 2.9 0a1.45 1.45 0 1 0 -2.9 0zM722.15 429.52a1.45 1.45 0 1 0 2.9 0a1.45 1.45 0 1 0 -2.9 0zM722.15 433.68a1.45 1.45 0 1 0 2.9 0a1.45 1.45 0 1 0 -2.9 0zM722.15 437.84a1.45 1.45 0 1 0 2.9 0a1.45 1.45 0 1 0 -2.9 0zM722.15 442.00a1.45 1.45 0 1 0 2.9 0a1.45 1.45 0 1 0 -2.9 0zM722.15 446.16a1.45 1.45 0 1 0 2.9 0a1.45 1.45 0 1 0 -2.9 0zM722.15 450.32a1.45 1.45 0 1 0 2.9 0a1.45 1.45 0 1 0 -2.9 0zM722.15 454.48a1.45 1.45 0 1 0 2.9 0a1.45 1.45 0 1 0 -2.9 0zM722.15 458.64a1.45 1.45 0 1 0 2.9 0a1.45 1.45 0 1 0 -2.9 0zM722.15 462.80a1.45 1.45 0 1 0 2.9 0a1.45 1.45 0 1 0 -2.9 0zM722.15 466.96a1.45 1.45 0 1 0 2.9 0a1.45 1.45 0 1 0 -2.9 0zM722.15 471.12a1.45 1.45 0 1 0 2.9 0a1.45 1.45 0 1 0 -2.9 0zM722.15 475.28a1.45 1.45 0 1 0 2.9 0a1.45 1.45 0 1 0 -2.9 0z" fill="#000"/>
<rect x="708.20" y="317.30" width="17.10" height="157.40" fill="none" stroke="#858585" stroke-width="1"/>
<line x1="716.5" y1="316.8" x2="716.5" y2="293.0" stroke="#4a4a4a" stroke-width="1"/>
<line x1="714.25" y1="293.5" x2="718.75" y2="293.5" stroke="#4a4a4a" stroke-width="1"/>
<text x="566.7" y="344.6" font-size="14.5" text-anchor="middle" fill="#555" class="st">*</text>
<text x="584.4" y="348.5" font-size="14.5" text-anchor="middle" fill="#555" class="st">**</text>
<text x="602.9" y="331.1" font-size="14.5" text-anchor="middle" fill="#555" class="st">*</text>
<text x="621" y="269.8" font-size="14.5" text-anchor="middle" fill="#555" class="st">*</text>
<text x="680" y="363.5" font-size="14.5" text-anchor="middle" fill="#555" class="st">**</text>
<text x="698.5" y="328.8" font-size="14.5" text-anchor="middle" fill="#555" class="st">**</text>
<text x="716.3" y="293.40000000000003" font-size="14.5" text-anchor="middle" fill="#555" class="st">**</text>
<text x="419.3" y="501.4" font-size="14.5" fill="#1a1a1a">MOI</text>
<text x="498.2" y="501.4" font-size="14.5" text-anchor="middle" fill="#1a1a1a">15</text>
<text x="593.7" y="501.4" font-size="14.5" text-anchor="middle" fill="#1a1a1a">5</text>
<text x="689.8" y="501.4" font-size="14.5" text-anchor="middle" fill="#1a1a1a">15</text>
<line x1="573.4" y1="506.9" x2="707.5" y2="506.9" stroke="#666" stroke-width="1.2"/>
<text x="498.6" y="530.4" font-size="14.8" text-anchor="middle" fill="#1a1a1a">Ad-LUC</text>
<text x="645.1" y="529.8" font-size="14.8" text-anchor="middle" fill="#1a1a1a">Ad-xBP1s</text>
</g>
</svg></body></html>
